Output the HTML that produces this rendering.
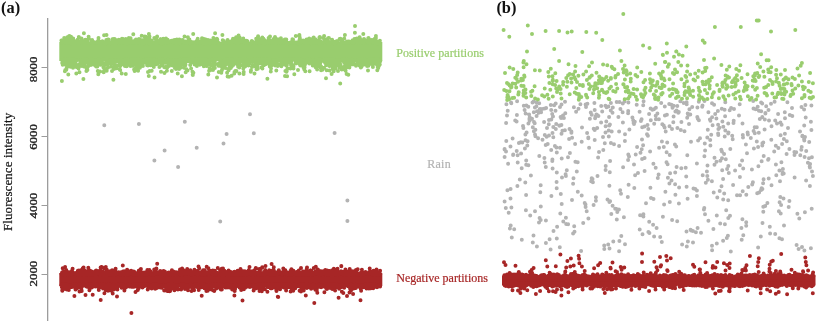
<!DOCTYPE html>
<html><head><meta charset="utf-8"><title>Fluorescence intensity</title>
<style>
html,body{margin:0;padding:0;background:#fff;}
svg{display:block;font-family:"Liberation Serif",serif;}
</style></head><body>
<svg width="817" height="324" viewBox="0 0 817 324">
<rect x="59.3" y="42" width="323" height="19" fill="#99cd6e"/>
<path d="M259.7 40.2h0M236.5 42.8h0M102.4 63.0h0M149.7 62.4h0M87.8 66.3h0M108.4 39.4h0M71.9 40.4h0M210.1 43.2h0M310.5 39.7h0M107.1 61.2h0M312.1 40.1h0M72.6 59.8h0M107.2 41.6h0M284.7 64.5h0M318.5 43.2h0M77.0 65.9h0M317.1 64.6h0M259.9 40.2h0M175.3 59.9h0M153.9 59.6h0M236.5 39.0h0M70.5 43.1h0M81.3 61.9h0M342.4 60.6h0M90.3 61.0h0M258.1 42.4h0M377.4 41.7h0M232.3 59.8h0M75.7 63.2h0M340.4 38.8h0M344.4 59.6h0M357.7 62.0h0M98.7 59.5h0M119.7 41.4h0M291.2 43.1h0M217.2 42.5h0M115.0 61.3h0M352.1 59.8h0M228.4 42.9h0M200.4 41.5h0M337.5 41.2h0M194.0 42.8h0M133.5 62.8h0M120.0 59.9h0M245.7 63.3h0M260.4 63.3h0M225.1 62.6h0M185.4 60.6h0M69.3 36.0h0M342.9 59.3h0M303.1 40.5h0M283.2 60.0h0M357.0 41.3h0M226.0 59.8h0M327.2 42.9h0M237.9 40.2h0M345.5 60.7h0M251.0 60.1h0M113.6 39.0h0M204.3 41.5h0M134.2 61.1h0M277.1 61.5h0M350.2 61.3h0M375.9 35.9h0M98.1 41.0h0M206.3 43.2h0M167.5 43.0h0M65.2 62.8h0M63.0 41.5h0M226.8 61.1h0M230.4 60.5h0M275.3 42.3h0M224.5 61.8h0M319.8 37.0h0M341.0 60.9h0M280.3 59.4h0M342.1 40.6h0M153.3 61.4h0M301.3 59.9h0M237.6 40.0h0M332.3 61.6h0M87.3 41.0h0M125.8 38.9h0M209.3 59.8h0M202.6 59.6h0M144.6 36.6h0M171.6 41.8h0M114.7 60.0h0M86.6 40.1h0M82.9 60.4h0M283.8 40.5h0M309.7 40.5h0M101.7 60.8h0M234.2 60.2h0M352.9 41.8h0M85.6 42.4h0M232.6 40.3h0M243.1 60.9h0M264.0 59.8h0M152.9 60.9h0M316.5 42.7h0M253.2 59.4h0M205.8 63.6h0M275.0 42.8h0M280.9 42.1h0M277.8 39.2h0M316.1 43.0h0M229.6 66.8h0M147.2 61.7h0M227.4 59.4h0M142.2 41.7h0M263.6 42.1h0M63.4 59.5h0M304.1 40.9h0M166.2 60.2h0M112.4 39.3h0M115.5 60.2h0M234.6 41.2h0M336.8 61.3h0M170.1 60.3h0M100.6 42.4h0M244.0 62.2h0M87.9 61.1h0M194.3 42.9h0M180.5 60.2h0M330.9 59.5h0M348.5 65.0h0M229.6 62.5h0M119.6 41.7h0M109.6 60.7h0M174.4 40.1h0M332.8 60.3h0M321.1 66.5h0M149.1 43.3h0M172.6 40.7h0M67.4 61.5h0M144.0 43.2h0M152.9 42.6h0M253.6 42.9h0M255.5 65.7h0M238.4 43.0h0M353.7 41.7h0M373.4 42.0h0M350.7 60.4h0M278.3 59.8h0M106.5 35.1h0M313.7 37.5h0M259.9 42.3h0M320.6 41.6h0M158.7 59.5h0M316.2 64.7h0M156.5 63.3h0M137.8 42.4h0M139.3 65.9h0M160.3 39.2h0M251.5 60.5h0M301.8 65.1h0M354.5 39.5h0M337.7 40.9h0M107.9 39.6h0M140.1 61.5h0M200.3 59.5h0M280.7 60.5h0M211.7 59.8h0M132.5 42.7h0M98.5 38.1h0M373.8 59.7h0M363.2 63.1h0M269.7 40.7h0M317.9 41.5h0M88.0 66.5h0M203.6 59.9h0M349.0 43.1h0M307.0 60.9h0M212.7 60.6h0M188.8 42.6h0M318.4 41.3h0M299.5 40.0h0M201.6 41.9h0M109.5 42.9h0M203.4 42.8h0M256.2 38.7h0M379.0 65.7h0M126.6 64.2h0M203.8 66.2h0M241.4 40.6h0M349.1 62.6h0M87.1 60.8h0M141.7 59.7h0M347.2 66.9h0M211.3 42.5h0M361.0 40.8h0M126.4 41.9h0M337.4 65.0h0M260.0 62.1h0M325.8 63.2h0M127.1 42.8h0M315.8 67.4h0M62.0 60.0h0M353.6 42.0h0M173.8 42.5h0M166.7 60.6h0M157.2 63.5h0M371.3 40.0h0M267.6 43.1h0M187.0 59.8h0M232.0 59.3h0M126.4 39.8h0M226.2 43.1h0M173.6 60.4h0M139.1 62.7h0M87.8 61.3h0M242.2 61.6h0M379.0 60.2h0M193.9 42.2h0M290.3 59.4h0M116.2 60.6h0M76.4 66.0h0M223.0 61.2h0M162.5 64.8h0M266.8 41.7h0M348.1 41.5h0M346.5 59.8h0M353.1 42.6h0M73.3 41.4h0M291.9 64.0h0M134.9 60.0h0M210.2 40.4h0M101.2 42.1h0M66.9 60.2h0M236.2 59.4h0M98.6 63.5h0M183.4 41.8h0M120.2 41.1h0M373.3 59.4h0M66.5 59.8h0M214.6 42.5h0M257.2 61.4h0M303.6 61.2h0M288.5 59.4h0M196.8 42.6h0M240.6 59.5h0M277.7 66.1h0M209.1 62.7h0M171.6 61.9h0M333.6 61.2h0M257.6 60.6h0M74.9 61.2h0M244.2 62.0h0M237.9 59.7h0M131.2 59.7h0M264.2 43.2h0M142.4 43.1h0M312.2 60.3h0M147.4 59.9h0M65.1 40.0h0M282.1 41.2h0M264.3 61.2h0M354.4 40.6h0M376.2 40.9h0M213.6 62.0h0M89.0 39.1h0M309.0 59.6h0M265.9 61.1h0M200.9 41.6h0M370.1 59.7h0M117.7 60.1h0M179.1 41.0h0M131.2 41.9h0M230.4 59.5h0M217.8 63.9h0M146.0 59.5h0M68.1 62.8h0M160.0 41.4h0M280.8 60.2h0M113.1 61.7h0M169.8 62.2h0M273.6 60.6h0M174.5 66.0h0M245.5 43.0h0M291.8 41.7h0M104.7 59.3h0M377.3 65.0h0M210.8 42.2h0M82.4 64.0h0M350.8 60.9h0M130.8 60.1h0M105.9 62.5h0M166.5 42.4h0M229.3 60.6h0M310.8 42.4h0M181.8 62.6h0M199.6 41.9h0M67.3 61.2h0M344.2 38.4h0M319.3 43.3h0M286.3 39.4h0M188.4 40.2h0M134.6 42.3h0M242.4 61.5h0M265.8 62.7h0M230.8 42.3h0M191.0 62.4h0M255.6 59.6h0M73.3 59.3h0M106.6 43.3h0M233.1 60.0h0M182.6 60.7h0M312.5 41.7h0M196.9 62.2h0M87.8 66.7h0M309.1 60.2h0M136.7 59.6h0M298.5 43.2h0M318.5 42.9h0M244.2 63.2h0M85.7 60.9h0M160.1 40.9h0M209.8 43.2h0M238.9 43.1h0M275.3 62.1h0M138.4 67.1h0M247.2 42.0h0M134.4 60.4h0M363.4 41.8h0M335.2 62.7h0M256.2 65.6h0M188.1 42.2h0M151.9 61.1h0M79.8 60.3h0M328.9 38.0h0M180.1 62.8h0M140.3 40.8h0M123.3 40.5h0M120.3 41.6h0M339.9 62.0h0M145.8 36.8h0M176.9 39.6h0M245.8 61.8h0M170.1 41.3h0M218.3 42.9h0M145.7 41.7h0M89.2 60.1h0M359.5 62.7h0M357.8 43.1h0M315.0 63.2h0M78.6 42.5h0M170.7 60.4h0M103.4 42.4h0M227.7 62.9h0M315.3 39.3h0M352.7 40.3h0M142.7 63.8h0M378.9 60.0h0M280.2 60.4h0M369.5 60.5h0M180.3 40.1h0M202.0 38.2h0M188.2 60.7h0M287.2 42.5h0M253.1 65.5h0M143.1 61.5h0M265.8 41.0h0M66.1 64.4h0M136.6 62.7h0M71.8 41.9h0M92.0 64.1h0M290.9 59.5h0M120.5 61.8h0M272.2 61.6h0M320.9 60.5h0M175.0 42.3h0M253.6 42.2h0M203.7 41.9h0M369.6 59.5h0M221.2 62.2h0M328.2 59.8h0M307.3 61.1h0M157.6 63.5h0M82.8 40.9h0M358.7 39.8h0M217.7 42.0h0M80.4 62.0h0M287.7 60.5h0M243.2 59.8h0M86.8 59.9h0M377.1 63.2h0M167.7 61.9h0M312.3 59.8h0M269.3 61.4h0M343.7 60.1h0M350.7 60.0h0M175.9 60.9h0M219.1 42.9h0M278.2 60.9h0M238.6 35.6h0M233.0 38.7h0M149.2 62.7h0M82.3 60.1h0M351.9 41.2h0M162.6 60.0h0M242.9 59.5h0M324.6 59.5h0M244.7 41.3h0M253.4 61.0h0M312.3 43.0h0M276.3 41.9h0M366.2 62.5h0M146.9 59.5h0M134.4 42.2h0M70.7 63.2h0M300.2 63.3h0M145.9 40.5h0M111.1 60.4h0M65.7 64.7h0M293.0 39.6h0M116.4 60.0h0M69.1 59.7h0M197.5 39.7h0M233.7 64.3h0M242.9 60.8h0M216.8 38.8h0M106.4 64.0h0M212.7 64.4h0M134.6 41.1h0M327.6 61.5h0M107.9 61.4h0M77.8 39.4h0M375.9 37.9h0M236.4 61.7h0M209.8 42.9h0M137.9 63.5h0M77.3 42.7h0M206.4 43.1h0M183.7 59.3h0M139.5 43.2h0M364.2 64.4h0M170.2 41.4h0M136.0 39.5h0M312.1 40.0h0M279.9 41.0h0M222.8 43.0h0M283.9 59.9h0M245.5 59.3h0M85.9 42.4h0M106.6 41.3h0M290.2 62.4h0M360.2 59.7h0M246.3 62.6h0M190.2 65.1h0M145.1 61.7h0M150.3 41.7h0M184.7 60.8h0M326.1 65.2h0M268.4 40.8h0M143.2 60.2h0M147.0 41.5h0M205.8 39.6h0M265.6 62.6h0M280.9 38.3h0M291.2 61.6h0M104.5 42.9h0M264.0 59.8h0M155.5 38.0h0M160.3 43.3h0M197.0 61.9h0M73.0 63.9h0M347.0 65.0h0M64.2 38.0h0M262.5 41.4h0M208.9 63.2h0M354.6 60.9h0M212.5 60.1h0M129.1 41.5h0M128.9 38.1h0M99.5 60.5h0M88.6 36.7h0M373.5 39.8h0M328.0 38.2h0M330.4 61.1h0M270.5 62.1h0M91.7 42.1h0M174.9 68.0h0M178.7 62.7h0M195.6 60.1h0M264.1 42.2h0M264.1 60.0h0M360.2 42.5h0M83.3 62.2h0M189.5 42.6h0M190.6 60.5h0M194.4 43.0h0M231.0 62.3h0M378.1 63.6h0M281.5 63.8h0M259.9 41.0h0M379.9 40.7h0M161.9 43.2h0M272.7 62.5h0M184.0 67.7h0M152.5 62.5h0M247.9 42.5h0M102.2 60.5h0M295.6 59.4h0M372.3 59.4h0M202.0 64.0h0M311.1 41.4h0M151.1 43.1h0M189.6 60.6h0M133.3 34.2h0M261.2 59.6h0M269.7 60.3h0M242.6 60.4h0M247.4 62.0h0M222.9 62.5h0M211.8 60.2h0M231.5 59.8h0M325.1 41.6h0M75.4 62.0h0M121.8 43.1h0M238.1 64.2h0M100.9 63.4h0M327.1 59.3h0M336.0 41.6h0M328.7 61.8h0M126.9 59.4h0M204.5 62.8h0M104.1 35.2h0M368.2 38.2h0M307.4 62.3h0M206.6 59.7h0M141.1 42.8h0M136.5 63.0h0M152.5 43.0h0M255.9 42.2h0M151.8 40.8h0M378.7 59.8h0M334.5 43.0h0M251.2 43.2h0M141.4 61.1h0M65.6 42.8h0M260.4 62.0h0M352.8 40.2h0M342.4 42.7h0M363.1 60.0h0M265.3 63.3h0M374.4 42.2h0M76.4 41.7h0M276.9 60.3h0M328.9 59.6h0M225.3 62.3h0M323.7 60.6h0M97.3 63.8h0M201.5 42.4h0M66.5 39.6h0M195.6 42.0h0M200.7 63.5h0M85.7 61.3h0M208.0 40.0h0M288.6 43.3h0M368.0 61.3h0M157.7 43.1h0M168.2 61.7h0M135.2 40.3h0M298.0 69.9h0M191.7 42.0h0M273.3 40.2h0M332.1 64.7h0M378.1 61.1h0M95.0 61.9h0M160.3 60.2h0M323.7 59.6h0M193.3 60.7h0M320.6 67.3h0M275.0 41.8h0M198.6 60.8h0M114.2 61.6h0M73.6 41.4h0M320.9 68.2h0M239.5 63.0h0M286.8 71.1h0M316.3 40.2h0M252.3 61.8h0M261.7 61.9h0M360.6 63.4h0M124.6 64.3h0M262.9 60.4h0M258.8 43.2h0M133.2 60.0h0M180.7 62.2h0M308.5 59.4h0M175.3 43.2h0M274.5 61.0h0M171.4 61.4h0M199.6 61.4h0M204.6 59.5h0M264.7 41.5h0M123.8 39.6h0M220.6 62.1h0M143.7 40.0h0M232.7 41.9h0M134.1 42.0h0M293.0 65.9h0M309.7 41.9h0M196.9 40.7h0M264.1 39.7h0M350.9 60.7h0M336.9 61.0h0M287.0 60.9h0M246.0 60.7h0M132.2 43.1h0M236.8 42.8h0M335.8 65.2h0M157.3 41.8h0M158.6 42.0h0M72.0 63.0h0M147.8 59.5h0M312.3 61.4h0M294.2 42.5h0M154.1 59.6h0M69.7 43.1h0M262.6 64.1h0M61.4 40.6h0M244.3 60.7h0M298.0 42.5h0M125.7 62.9h0M135.0 59.9h0M266.9 60.0h0M358.9 59.7h0M357.7 60.2h0M275.0 36.9h0M157.5 59.9h0M220.4 61.8h0M261.5 59.8h0M301.3 62.9h0M187.6 60.7h0M151.8 41.6h0M303.6 41.4h0M297.8 61.9h0M314.9 60.0h0M125.3 42.7h0M198.5 59.8h0M171.7 40.8h0M134.3 60.6h0M367.5 40.6h0M230.8 41.6h0M241.2 41.4h0M268.6 38.1h0M110.1 42.0h0M341.6 60.6h0M338.0 62.2h0M212.7 63.9h0M296.6 42.5h0M282.3 61.6h0M116.9 42.5h0M197.5 42.7h0M159.9 41.4h0M364.0 42.6h0M269.6 62.0h0M255.6 63.0h0M269.3 59.5h0M145.5 41.1h0M223.7 40.9h0M363.3 34.0h0M161.4 59.9h0M359.3 42.8h0M70.8 42.9h0M92.1 39.9h0M238.6 60.4h0M136.8 64.7h0M185.5 64.6h0M99.6 60.1h0M69.7 39.6h0M339.6 38.9h0M262.7 60.5h0M160.5 39.3h0M166.0 38.5h0M279.0 42.6h0M267.9 42.4h0M299.4 34.9h0M168.0 42.1h0M266.4 59.6h0M226.6 42.5h0M237.0 42.9h0M108.7 42.5h0M129.7 64.8h0M176.2 64.0h0M127.0 59.7h0M214.6 40.3h0M84.4 60.8h0M189.4 39.4h0M246.8 61.0h0M122.0 40.4h0M210.1 41.1h0M183.4 63.8h0M91.5 59.6h0M104.0 66.3h0M350.4 63.2h0M165.2 41.9h0M84.9 43.0h0M348.5 42.5h0M307.8 60.8h0M183.4 41.7h0M247.5 41.2h0M108.1 42.6h0M84.3 41.7h0M63.2 62.7h0M257.7 59.4h0M323.1 37.9h0M200.1 60.8h0M378.0 67.0h0M286.8 59.6h0M275.3 39.9h0M283.4 40.4h0M354.6 64.4h0M131.4 59.3h0M328.5 43.0h0M116.5 40.6h0M231.5 60.6h0M357.7 63.6h0M332.0 61.8h0M313.0 64.7h0M318.7 64.0h0M139.0 62.7h0M87.6 41.9h0M232.7 42.2h0M332.9 61.6h0M215.1 33.2h0M107.5 65.0h0M249.5 62.3h0M73.2 38.4h0M179.6 43.3h0M107.1 43.0h0M226.2 60.3h0M180.4 41.3h0M353.5 42.6h0M265.4 43.0h0M185.2 42.9h0M237.9 42.3h0M66.1 41.6h0M69.8 59.5h0M79.3 65.4h0M85.0 62.4h0M70.5 65.5h0M157.9 60.0h0M257.0 68.3h0M122.0 38.8h0M116.5 61.1h0M331.0 41.9h0M323.0 43.1h0M88.7 38.5h0M132.4 43.1h0M115.8 42.5h0M244.0 61.5h0M304.3 42.5h0M71.7 59.9h0M335.6 60.0h0M154.9 42.2h0M246.7 40.7h0M128.0 61.4h0M164.5 67.2h0M140.8 62.3h0M156.2 38.9h0M344.3 63.0h0M242.6 40.9h0M145.2 62.4h0M329.8 63.4h0M130.4 59.9h0M362.8 65.1h0M361.6 42.8h0M67.8 63.9h0M76.1 41.0h0M264.6 41.5h0M281.3 39.9h0M140.5 42.9h0M346.9 41.4h0M246.1 43.1h0M85.7 59.8h0M309.2 38.6h0M175.2 42.9h0M115.7 39.9h0M299.1 41.2h0M360.4 59.6h0M262.7 42.7h0M281.0 40.3h0M244.8 60.3h0M326.8 65.1h0M123.1 61.7h0M146.8 42.6h0M162.1 59.4h0M370.6 61.1h0M351.8 60.7h0M211.3 65.6h0M283.7 60.0h0M199.8 41.7h0M167.5 42.4h0M102.4 41.3h0M300.6 41.4h0M358.0 60.7h0M204.0 61.4h0M277.9 59.9h0M233.0 62.5h0M145.9 59.8h0M71.4 60.7h0M358.1 64.4h0M265.9 60.1h0M280.2 64.6h0M91.1 61.4h0M140.4 59.9h0M257.2 59.7h0M74.5 61.3h0M80.8 42.8h0M109.0 41.7h0M96.9 43.0h0M213.4 38.1h0M243.0 61.6h0M252.3 41.5h0M380.2 61.3h0M119.6 62.0h0M242.5 65.3h0M216.4 59.5h0M297.6 61.6h0M144.6 43.0h0M164.9 41.9h0M271.7 61.8h0M326.7 42.5h0M276.7 60.7h0M208.6 40.7h0M160.6 42.9h0M114.4 42.6h0M156.7 43.1h0M230.0 42.3h0M291.8 60.5h0M305.3 61.5h0M322.3 42.7h0M136.7 42.9h0M363.4 42.9h0M136.0 59.6h0M352.9 60.3h0M62.2 63.0h0M336.5 62.8h0M153.8 66.9h0M119.9 60.9h0M103.1 41.7h0M257.6 60.2h0M338.9 60.5h0M200.2 59.9h0M375.0 60.1h0M73.9 43.1h0M184.5 36.5h0M265.1 43.3h0M352.7 42.7h0M89.7 43.2h0M86.2 40.1h0M87.0 63.1h0M126.5 41.3h0M162.7 64.3h0M175.9 43.1h0M238.9 65.5h0M364.3 59.4h0M91.0 62.5h0M235.8 61.6h0M315.7 59.4h0M312.9 42.5h0M213.6 66.9h0M359.6 60.4h0M291.0 64.9h0M364.9 60.7h0M173.6 41.3h0M67.3 37.3h0M325.1 62.8h0M285.7 60.4h0M83.9 66.4h0M377.7 62.0h0M258.4 39.4h0M354.1 61.3h0M343.4 67.3h0M187.0 61.2h0M131.5 62.1h0M239.3 67.6h0M289.0 62.0h0M174.3 40.6h0M324.5 59.8h0M189.2 61.1h0M83.8 60.3h0M298.2 43.0h0M277.2 61.5h0M88.4 61.0h0M326.9 41.6h0M147.2 60.2h0M98.0 63.7h0M255.8 65.9h0M289.8 60.2h0M317.4 60.4h0M308.0 62.5h0M200.7 63.4h0M157.1 36.4h0M104.2 43.2h0M94.4 61.2h0M318.2 42.1h0M94.8 62.8h0M117.9 40.9h0M314.6 60.8h0M198.8 60.2h0M255.6 66.5h0M286.1 42.9h0M132.0 41.3h0M68.3 60.8h0M98.2 60.2h0M303.2 60.6h0M213.3 61.4h0M106.3 40.0h0M377.5 43.1h0M318.2 61.6h0M148.9 34.0h0M129.3 60.4h0M276.3 70.6h0M354.9 32.8h0M237.8 60.8h0M300.2 59.3h0M315.5 41.1h0M346.2 61.1h0M157.0 60.6h0M361.7 41.1h0M311.0 40.2h0M182.2 62.6h0M309.4 42.6h0M140.0 39.5h0M226.7 42.2h0M157.1 42.3h0M358.9 39.9h0M265.5 62.6h0M93.8 43.0h0M111.2 61.8h0M247.8 61.9h0M95.8 61.0h0M256.7 63.5h0M180.6 59.7h0M211.1 60.2h0M354.4 39.1h0M325.1 59.5h0M175.6 61.9h0M197.2 59.8h0M151.4 42.5h0M372.1 42.1h0M62.7 64.8h0M214.4 60.8h0M70.6 41.7h0M261.1 62.6h0M294.2 43.1h0M249.6 60.0h0M237.3 60.2h0M270.5 43.0h0M254.2 42.6h0M64.3 61.2h0M164.2 67.1h0M80.3 42.1h0M168.7 59.8h0M180.0 42.8h0M322.6 42.6h0M252.9 66.0h0M233.6 61.2h0M364.2 41.4h0M370.0 61.8h0M66.6 42.9h0M375.5 63.7h0M297.0 59.4h0M212.0 42.3h0M139.0 62.3h0M122.5 62.9h0M274.5 60.2h0M130.4 43.1h0M295.8 36.0h0M376.9 43.2h0M320.4 60.8h0M111.6 41.9h0M236.1 37.3h0M267.9 59.9h0M72.5 43.0h0M310.4 43.2h0M81.7 41.8h0M328.5 41.8h0M76.2 42.9h0M219.8 59.4h0M380.2 60.6h0M309.1 42.8h0M213.1 40.0h0M370.5 62.8h0M319.8 60.6h0M356.8 60.8h0M185.5 60.3h0M159.4 62.5h0M378.2 60.3h0M102.4 42.8h0M72.1 39.3h0M322.2 60.5h0M234.1 59.9h0M311.6 42.4h0M360.0 38.6h0M275.1 40.2h0M199.7 62.4h0M233.2 61.9h0M93.4 42.2h0M339.0 63.7h0M291.6 60.5h0M333.3 62.9h0M240.5 59.9h0M91.9 41.8h0M251.2 43.2h0M112.7 60.3h0M63.9 59.6h0M299.5 36.3h0M91.5 60.1h0M332.9 59.6h0M163.2 38.7h0M124.6 61.2h0M203.7 60.3h0M86.5 59.5h0M298.2 62.7h0M161.8 41.4h0M328.7 59.6h0M82.5 42.3h0M111.3 42.4h0M287.6 59.6h0M182.8 64.1h0M306.8 61.0h0M129.6 41.5h0M81.5 41.7h0M126.0 42.2h0M139.4 59.7h0M122.4 63.8h0M254.1 65.6h0M155.3 43.1h0M199.6 60.8h0M283.2 60.8h0M260.6 59.4h0M319.9 40.9h0M237.3 59.8h0M278.8 60.3h0M173.0 60.0h0M80.4 61.1h0M376.1 59.6h0M240.5 60.4h0M113.2 63.2h0M203.1 62.3h0M111.8 42.6h0M215.8 43.1h0M179.7 59.7h0M199.4 41.6h0M315.1 59.7h0M352.9 42.2h0M83.8 59.7h0M238.9 41.9h0M127.1 42.2h0M245.1 42.6h0M185.4 41.6h0M90.7 61.8h0M355.2 40.6h0M356.3 39.2h0M304.5 66.1h0M69.4 40.8h0M364.4 39.7h0M214.5 63.0h0M180.9 40.9h0M200.0 60.1h0M245.3 40.9h0M344.1 60.9h0M255.2 43.0h0M118.8 39.7h0M188.8 59.6h0M189.9 61.5h0M242.4 61.1h0M320.5 60.8h0M131.4 41.8h0M178.9 43.1h0M328.5 43.2h0M123.5 41.4h0M334.7 62.8h0M333.6 43.2h0M131.5 59.8h0M178.4 61.3h0M190.0 43.2h0M289.9 62.2h0M233.5 60.8h0M86.1 43.0h0M330.9 62.6h0M209.7 41.3h0M331.1 42.9h0M71.0 36.8h0M323.1 60.9h0M227.9 59.5h0M175.2 42.9h0M343.6 59.6h0M98.5 59.6h0M149.5 39.1h0M324.5 39.2h0M206.0 43.1h0M361.8 40.3h0M303.8 41.3h0M231.0 67.3h0M319.2 42.5h0M324.4 59.8h0M83.9 33.3h0M160.6 61.5h0M345.9 42.6h0M149.4 39.6h0M162.1 61.9h0M275.4 40.2h0M295.8 61.9h0M185.6 61.0h0M204.0 39.0h0M105.4 59.4h0M372.9 63.6h0M214.7 61.6h0M270.2 63.9h0M364.0 39.0h0M348.5 62.5h0M75.1 43.1h0M183.9 41.3h0M307.6 59.4h0M330.9 61.0h0M193.2 34.1h0M206.2 59.5h0M306.5 39.6h0M154.3 38.1h0M190.7 61.5h0M174.8 42.0h0M243.3 38.6h0M251.4 60.0h0M71.4 41.3h0M293.1 59.4h0M103.3 59.3h0M375.8 41.8h0M157.9 42.7h0M203.1 61.9h0M184.4 42.8h0M299.6 43.1h0M214.6 60.7h0M345.0 61.6h0M349.4 42.1h0M293.5 42.2h0M301.9 62.1h0M292.1 41.9h0M65.9 61.3h0M64.6 61.7h0M378.0 42.3h0M153.2 42.5h0M203.7 59.4h0M170.8 60.5h0M110.9 42.9h0M333.8 41.8h0M184.8 42.2h0M246.1 41.2h0M165.5 39.0h0M377.9 41.9h0M288.7 59.5h0M284.8 39.4h0M316.9 41.4h0M61.9 42.6h0M319.7 42.7h0M150.0 59.5h0M72.2 62.2h0M339.6 66.3h0M89.4 60.9h0M65.7 42.9h0M178.6 65.2h0M106.4 59.3h0M294.9 59.7h0M319.9 60.0h0M367.1 65.9h0M147.4 60.1h0M134.0 41.8h0M68.3 59.5h0M211.1 60.6h0M342.3 40.5h0M85.3 39.8h0M93.1 62.2h0M192.0 61.5h0M261.0 62.8h0M154.8 42.2h0M170.7 60.3h0M316.7 59.8h0M104.2 64.8h0M299.9 38.2h0M166.0 62.8h0M239.0 60.3h0M320.2 63.6h0M190.1 60.4h0M295.9 63.5h0M92.2 59.7h0M273.7 39.0h0M238.8 39.6h0M361.6 60.6h0M118.0 60.7h0M244.3 42.1h0M200.2 63.1h0M332.9 59.7h0M301.8 41.3h0M319.4 37.5h0M123.8 41.8h0M112.1 41.9h0M312.9 63.6h0M116.0 60.2h0M145.2 60.9h0M302.1 60.4h0M222.4 35.0h0M74.1 65.1h0M334.3 59.6h0M97.9 41.0h0M145.7 42.6h0M100.1 64.6h0M130.8 61.6h0M152.2 41.9h0M284.5 59.5h0M67.1 42.1h0M90.1 62.1h0M112.9 42.8h0M263.2 38.6h0M119.2 61.3h0M140.4 42.5h0M339.8 60.8h0M303.2 61.5h0M262.0 59.8h0M173.8 62.8h0M208.8 41.3h0M267.2 59.6h0M187.9 37.3h0M224.6 42.8h0M130.3 42.4h0M368.7 41.8h0M369.9 60.4h0M372.5 59.5h0M168.0 59.8h0M352.7 42.7h0M199.5 42.4h0M208.3 42.6h0M301.8 62.8h0M130.6 38.3h0M193.5 60.9h0M175.9 63.1h0M270.0 36.5h0M257.9 59.6h0M136.8 43.1h0M121.9 60.1h0M203.8 41.1h0M341.4 40.8h0M61.8 40.4h0M209.2 62.3h0M316.7 60.6h0M224.7 60.5h0M275.8 59.9h0M198.8 61.7h0M361.3 66.2h0M343.3 42.2h0M151.8 43.1h0M372.9 43.0h0M166.7 40.6h0M284.7 43.0h0M378.6 60.7h0M299.7 60.5h0M232.9 61.4h0M332.1 39.7h0M320.0 59.3h0M143.3 40.1h0M149.6 42.8h0M284.1 64.2h0M87.1 62.6h0M156.1 40.4h0M289.2 43.0h0M292.4 39.2h0M120.7 43.0h0M254.1 59.8h0M202.9 60.7h0M378.8 43.2h0M341.1 67.0h0M240.5 40.9h0M378.7 61.5h0M365.5 61.8h0M128.7 42.7h0M114.8 41.4h0M156.7 61.7h0M197.1 61.2h0M372.5 59.9h0M369.9 41.8h0M68.7 59.7h0M277.6 40.6h0M84.5 43.1h0M119.5 63.7h0M114.2 41.1h0M340.3 60.7h0M324.7 40.6h0M92.7 60.0h0M361.6 62.3h0M378.4 60.2h0M249.8 63.5h0M87.5 40.3h0M336.1 41.6h0M324.1 36.1h0M199.1 60.0h0M349.0 41.5h0M334.6 67.2h0M224.0 61.6h0M317.5 41.1h0M361.2 61.0h0M363.2 41.7h0M280.0 39.6h0M78.8 36.9h0M173.1 61.5h0M75.9 42.5h0M152.2 63.5h0M131.4 60.7h0M359.6 37.3h0M123.7 39.4h0M198.1 64.8h0M298.0 43.1h0M333.8 59.8h0M305.3 63.3h0M120.6 60.3h0M141.9 62.1h0M196.5 61.6h0M156.4 62.3h0M376.1 41.0h0M316.3 62.5h0M122.2 64.2h0M377.8 59.5h0M334.6 61.7h0M369.7 62.8h0M316.8 59.6h0M141.7 35.8h0M243.5 59.4h0M374.2 63.1h0M125.9 60.8h0M236.4 42.3h0M374.1 63.4h0M313.0 38.2h0M116.7 61.5h0M179.3 39.4h0M214.4 64.9h0M107.9 62.7h0M217.3 39.5h0M167.6 39.7h0M239.6 37.5h0M139.1 40.1h0M109.0 41.9h0M192.5 61.2h0M233.8 62.5h0M262.0 60.6h0M255.3 61.1h0M226.5 42.6h0M159.4 60.2h0M163.0 42.8h0M369.4 40.5h0M95.7 59.9h0M297.6 62.2h0M90.6 59.8h0M298.1 43.2h0M113.6 61.9h0M65.2 62.4h0M206.2 59.3h0M314.0 62.5h0M127.0 43.2h0M351.0 64.6h0M340.8 60.6h0M92.4 41.1h0M99.6 42.4h0M137.2 42.5h0M148.5 61.5h0M368.3 42.9h0M168.5 62.4h0M344.9 35.0h0M68.8 60.1h0M236.8 43.0h0M368.8 63.1h0M311.2 41.5h0M124.8 43.0h0M227.4 63.0h0M94.6 42.2h0M120.0 61.3h0M306.5 43.0h0M165.9 61.9h0M156.3 64.2h0M68.9 37.7h0M120.3 59.8h0M290.8 42.2h0M173.2 59.9h0M368.5 37.9h0M347.9 62.9h0M245.5 59.9h0M218.2 59.5h0M75.4 60.6h0M256.7 62.3h0M183.5 64.7h0M210.3 41.2h0M337.0 61.8h0M321.0 60.8h0M229.4 60.7h0M81.6 41.1h0M376.1 61.9h0M277.0 63.1h0M319.1 43.3h0M258.1 43.0h0M378.2 68.0h0M269.9 40.1h0M251.8 41.0h0M195.0 59.7h0M341.2 59.9h0M366.4 62.3h0M331.1 61.7h0M226.4 64.2h0M136.3 41.9h0M178.7 60.2h0M159.6 40.8h0M170.3 60.4h0M254.3 61.0h0M199.5 60.3h0M197.7 38.7h0M110.4 43.2h0M146.4 41.1h0M292.6 42.5h0M195.6 60.0h0M209.4 41.6h0M96.7 61.4h0M309.7 62.3h0M345.0 61.1h0M88.4 61.3h0M204.0 43.2h0M153.8 60.4h0M308.6 41.3h0M374.8 38.8h0M185.8 59.8h0M365.2 62.7h0M133.2 61.0h0M309.3 63.5h0M143.3 41.6h0M290.5 60.8h0M347.4 59.8h0M369.2 60.3h0M259.7 39.0h0M326.3 59.4h0M85.2 59.7h0M183.3 64.2h0M321.7 60.5h0M199.6 61.2h0M327.4 60.4h0M125.8 43.0h0M95.7 63.1h0M147.7 39.3h0M222.7 40.3h0M304.6 67.6h0M214.6 63.0h0M356.8 38.4h0M71.1 61.6h0M358.0 61.0h0M341.4 42.6h0M98.6 40.7h0M330.3 61.1h0M76.6 42.1h0M130.8 40.0h0M103.5 59.4h0M258.1 36.2h0M365.6 60.5h0M99.9 64.2h0M203.7 39.8h0M168.5 60.3h0M139.4 60.8h0M339.4 65.0h0M233.3 65.1h0M133.5 59.8h0M273.0 42.2h0M322.7 67.7h0M262.3 37.4h0M111.0 63.9h0M112.7 59.8h0M89.0 43.1h0M113.0 63.3h0M294.9 42.5h0M139.0 38.9h0M335.9 43.0h0M198.4 59.8h0M272.6 62.7h0M212.3 59.8h0M281.5 60.4h0M277.4 42.8h0M334.6 43.1h0M194.4 63.8h0M133.7 63.8h0M296.6 59.5h0M215.3 59.5h0M347.5 62.4h0M117.7 60.4h0M149.5 36.6h0M311.5 40.4h0M280.7 43.3h0M148.0 40.6h0M358.6 43.1h0M364.1 60.2h0M351.3 59.9h0M366.8 61.4h0M304.3 41.9h0M361.1 61.6h0M239.8 41.0h0M336.0 60.9h0M345.1 60.7h0M196.6 61.2h0M330.1 43.2h0M87.4 42.6h0M228.9 59.6h0M326.1 42.0h0M182.5 39.9h0M125.3 59.3h0M370.3 63.4h0M81.5 38.4h0M374.5 59.6h0M369.6 59.5h0M150.3 63.2h0M227.6 40.1h0M248.5 60.9h0M163.1 42.7h0M114.6 39.1h0M267.4 41.5h0M303.4 67.2h0M120.8 60.1h0M71.0 43.2h0M225.6 42.9h0M333.5 42.1h0M369.0 39.3h0M133.1 42.5h0M358.0 42.8h0M146.5 42.0h0M371.9 59.5h0M307.1 43.0h0M76.7 60.3h0M126.3 41.0h0M128.9 61.1h0M373.7 59.5h0M265.5 64.3h0M179.2 66.1h0M207.7 60.2h0M148.0 65.6h0M112.0 61.4h0M371.9 59.5h0M79.1 65.0h0M214.8 64.3h0M120.3 65.9h0M335.4 68.4h0M185.2 65.6h0M222.8 68.1h0M172.5 65.5h0M205.4 64.0h0M90.8 64.9h0M180.4 66.0h0M107.9 67.7h0M234.6 72.0h0M368.0 70.4h0M137.8 66.6h0M338.0 71.1h0M69.2 64.8h0M184.2 64.0h0M317.1 69.5h0M174.6 65.3h0M224.1 65.0h0M79.5 72.3h0M148.0 71.9h0M267.4 78.7h0M340.2 83.4h0M231.6 75.8h0M134.9 69.1h0M285.4 71.0h0M115.4 65.2h0M98.3 74.2h0M210.9 69.7h0M349.4 67.6h0M286.9 65.1h0M244.6 65.4h0M236.4 71.1h0M97.8 71.0h0M115.3 66.8h0M287.1 76.3h0M121.7 73.6h0M211.8 65.0h0M326.0 78.2h0M281.8 64.9h0M377.3 70.2h0M119.6 69.3h0M252.8 66.1h0M199.7 64.7h0M219.5 65.8h0M324.0 68.1h0M305.3 71.2h0M238.6 64.7h0M193.4 72.8h0M243.7 72.0h0M345.6 70.8h0M286.4 65.4h0M154.9 64.4h0M229.0 76.7h0M332.8 68.8h0M228.7 70.2h0M248.5 65.5h0M138.1 70.8h0M368.4 65.8h0M142.9 65.9h0M286.8 64.1h0M142.1 65.6h0M294.3 74.2h0M73.0 67.7h0M192.7 74.5h0M360.5 66.8h0M191.1 68.6h0M177.6 65.8h0M196.9 65.9h0M378.2 64.4h0M379.8 64.6h0M78.0 67.1h0M159.4 66.9h0M332.8 68.0h0M340.3 67.8h0M136.5 66.3h0M169.1 64.0h0M372.9 66.9h0M112.0 70.9h0M235.4 71.0h0M329.6 66.0h0M134.6 71.0h0M343.3 66.9h0M217.0 77.4h0M87.4 69.9h0M256.5 69.2h0M68.4 66.0h0M257.4 65.3h0M329.4 65.9h0M116.3 68.2h0M317.4 66.2h0M300.3 65.5h0M132.6 65.7h0M114.5 67.9h0M100.1 71.5h0M209.6 68.1h0M81.1 66.0h0M250.8 71.8h0M111.1 66.7h0M269.8 66.5h0M78.5 68.4h0M136.1 68.1h0M341.6 68.9h0M95.0 65.2h0M292.5 65.4h0M206.4 65.9h0M167.2 67.6h0M186.5 69.2h0M221.9 66.9h0M115.4 67.4h0M312.7 65.5h0M281.4 66.2h0M262.4 68.6h0M230.3 66.1h0M372.7 65.1h0M360.7 64.5h0M268.9 64.1h0M139.0 65.9h0M66.6 68.3h0M147.1 65.3h0M72.5 66.1h0M238.1 66.7h0M349.3 66.0h0M340.3 64.6h0M125.8 74.1h0M326.7 70.2h0M154.3 64.7h0M304.2 69.2h0M348.3 74.7h0M184.3 65.9h0M113.9 69.0h0M245.1 66.4h0M348.7 65.0h0M93.9 64.6h0M169.0 65.9h0M171.8 70.9h0M224.3 66.4h0M194.6 64.4h0M353.2 64.2h0M261.6 67.4h0M359.6 65.4h0M61.9 80.9h0M346.6 74.0h0M265.2 64.3h0M221.9 70.3h0M321.1 70.2h0M177.7 73.4h0M270.8 71.6h0M227.9 69.0h0M148.8 76.0h0M130.5 66.1h0M205.3 64.7h0M305.0 64.5h0M203.9 64.1h0M315.3 66.1h0M239.4 73.4h0M114.0 67.1h0M179.2 67.4h0M371.6 64.0h0M208.3 64.1h0M181.9 76.3h0M72.5 64.2h0M86.7 68.6h0M180.5 67.8h0M113.4 79.7h0M293.5 68.5h0M213.0 70.0h0M154.5 77.4h0M103.7 72.2h0M147.3 64.4h0M139.9 67.7h0M149.6 71.1h0M192.5 71.8h0M96.1 66.4h0M192.8 75.0h0M100.4 64.7h0M66.3 68.9h0M377.7 67.1h0M161.0 71.8h0M75.3 64.2h0M225.4 68.0h0M218.8 71.9h0M319.7 66.3h0M84.1 64.5h0M74.6 64.3h0M263.8 65.2h0M254.5 73.4h0M185.7 72.3h0M319.8 64.9h0M275.2 65.6h0M79.5 64.2h0M290.5 68.4h0M299.5 64.1h0M251.0 70.2h0M341.7 69.4h0M76.3 67.0h0M150.7 65.3h0M73.7 64.2h0M285.0 76.1h0M70.5 66.7h0M95.1 65.4h0M67.5 65.3h0M339.3 67.5h0M161.3 65.4h0M345.4 69.4h0M286.5 71.8h0M66.5 64.5h0M336.3 64.6h0M214.7 64.4h0M338.8 64.0h0M224.4 65.3h0M206.9 65.1h0M166.9 70.8h0M83.4 79.0h0M257.6 66.5h0M173.7 65.2h0M175.8 66.0h0M135.5 68.4h0M234.5 72.1h0M73.0 64.9h0M117.2 66.0h0M221.3 72.7h0M120.2 69.9h0M227.6 76.5h0M333.7 71.2h0M287.4 68.6h0M147.1 64.1h0M315.4 66.7h0M179.1 69.0h0M68.3 74.5h0M64.9 71.3h0M227.1 72.7h0M152.3 64.5h0M229.9 65.8h0M218.4 65.7h0M234.3 73.4h0M204.6 64.1h0M243.6 74.1h0M126.7 66.2h0M361.5 66.8h0M334.9 65.5h0M86.4 71.0h0M209.2 64.0h0M85.0 66.7h0M151.7 70.7h0M271.7 65.3h0M378.3 67.3h0M237.3 64.3h0M272.9 64.1h0M73.2 64.5h0M247.6 64.6h0M132.8 65.6h0M176.0 69.0h0M271.0 68.5h0M106.6 69.0h0M257.8 68.7h0M65.3 70.1h0M106.7 70.7h0M331.6 74.0h0M164.5 73.0h0M243.3 68.5h0M285.2 64.1h0M322.5 69.7h0M329.6 70.6h0M97.3 66.5h0M99.4 64.4h0M166.5 66.5h0M209.1 70.7h0M134.1 69.4h0M309.6 71.2h0M231.9 66.3h0M88.9 64.1h0M255.7 66.0h0M345.7 64.8h0M103.4 67.3h0M76.3 73.6h0M98.9 64.1h0M221.1 64.3h0M230.8 68.1h0M293.5 66.7h0M342.9 69.3h0M254.0 65.6h0M124.9 66.1h0M214.8 68.1h0M208.3 74.5h0M66.3 69.8h0M173.3 64.7h0M345.8 66.4h0M252.0 66.9h0M356.0 65.8h0M187.5 70.6h0M360.8 67.5h0M104.0 70.8h0M197.2 64.8h0M292.2 65.8h0M355.0 26.0h0" stroke="#99cd6e" stroke-width="4.0" stroke-linecap="round" fill="none"/>
<rect x="59.3" y="273" width="323" height="13" fill="#a72626"/>
<path d="M107.0 285.0h0M370.9 288.2h0M238.6 285.6h0M255.2 273.3h0M264.7 285.1h0M234.0 273.0h0M171.2 274.6h0M363.6 285.6h0M134.0 284.7h0M371.6 274.3h0M222.1 286.7h0M132.3 285.1h0M282.3 286.8h0M152.7 284.8h0M356.9 272.5h0M225.7 285.5h0M77.9 270.7h0M173.3 284.9h0M332.1 270.3h0M266.9 285.5h0M115.3 285.2h0M295.9 285.4h0M379.6 284.7h0M205.9 272.2h0M208.0 289.6h0M138.0 284.6h0M290.7 270.7h0M132.0 284.9h0M255.5 273.7h0M153.0 274.1h0M220.4 273.4h0M240.5 285.3h0M270.4 270.7h0M373.3 274.3h0M260.2 273.8h0M333.4 274.1h0M97.1 285.1h0M292.5 270.7h0M155.2 274.0h0M311.3 272.3h0M335.5 271.3h0M168.3 274.2h0M303.0 284.8h0M168.9 286.1h0M100.8 274.5h0M315.2 273.7h0M197.1 273.4h0M113.9 285.6h0M349.1 273.6h0M248.9 285.5h0M286.9 286.7h0M203.4 273.7h0M286.1 271.8h0M151.9 274.2h0M240.7 285.0h0M145.6 274.4h0M314.3 285.4h0M228.5 284.7h0M271.7 286.3h0M258.7 286.0h0M280.0 287.6h0M244.7 287.2h0M217.8 268.0h0M125.0 285.2h0M101.3 273.8h0M90.5 287.7h0M336.0 273.5h0M371.3 287.5h0M185.0 271.7h0M355.8 286.2h0M320.8 271.3h0M190.9 273.1h0M236.3 274.0h0M215.4 286.5h0M120.4 273.9h0M225.0 274.1h0M65.2 286.2h0M253.6 287.2h0M324.8 271.4h0M182.1 274.5h0M223.6 285.9h0M265.0 273.9h0M67.1 287.6h0M79.8 274.6h0M119.2 273.5h0M278.8 284.9h0M83.2 274.1h0M320.1 273.4h0M341.1 286.5h0M234.9 274.0h0M197.5 274.6h0M270.0 285.9h0M69.4 273.8h0M81.5 270.1h0M233.4 274.5h0M174.8 274.2h0M149.1 272.4h0M321.0 271.3h0M114.4 270.9h0M71.1 273.4h0M341.6 273.3h0M78.7 273.9h0M64.0 284.8h0M182.1 268.5h0M132.1 273.4h0M121.6 274.5h0M369.2 286.6h0M269.2 270.2h0M131.1 270.8h0M329.8 274.1h0M102.8 271.4h0M198.3 274.4h0M232.7 285.8h0M107.9 273.9h0M150.7 285.4h0M161.7 287.1h0M183.4 287.5h0M329.7 272.0h0M265.3 274.4h0M81.6 285.4h0M73.6 284.6h0M155.6 273.2h0M314.5 285.4h0M325.8 286.6h0M288.1 285.0h0M291.4 273.9h0M280.2 284.7h0M333.1 284.6h0M220.5 271.7h0M119.7 272.7h0M95.4 274.4h0M372.8 284.7h0M63.5 286.3h0M229.2 287.1h0M224.3 274.0h0M168.8 285.2h0M261.7 274.0h0M376.7 274.1h0M180.5 274.5h0M325.3 270.1h0M284.1 273.4h0M215.0 285.2h0M152.6 286.8h0M350.1 284.9h0M316.6 286.2h0M209.2 285.8h0M313.8 267.9h0M168.8 286.5h0M226.4 273.6h0M374.0 284.9h0M200.1 285.5h0M147.2 284.8h0M113.6 285.1h0M90.2 285.3h0M275.7 272.3h0M302.0 273.2h0M97.6 285.4h0M270.3 273.9h0M164.0 273.6h0M237.1 274.4h0M87.6 284.8h0M109.9 286.5h0M312.5 287.7h0M68.0 274.1h0M278.2 284.7h0M195.8 273.2h0M156.3 286.4h0M115.9 274.3h0M375.0 273.2h0M331.7 286.0h0M248.7 270.3h0M63.4 285.6h0M172.8 274.5h0M226.1 287.0h0M373.5 270.7h0M183.5 270.3h0M141.4 285.0h0M113.1 274.3h0M233.7 285.2h0M321.7 273.6h0M307.2 274.5h0M167.6 284.7h0M101.7 274.3h0M255.8 285.8h0M316.6 273.1h0M62.1 285.2h0M352.0 272.5h0M341.0 286.1h0M174.8 271.9h0M125.9 287.6h0M269.0 274.1h0M187.0 273.8h0M294.8 286.3h0M348.2 273.3h0M104.2 286.1h0M78.9 285.1h0M341.6 273.2h0M136.0 285.0h0M198.5 266.5h0M227.6 273.0h0M138.7 270.7h0M159.5 285.1h0M253.1 286.4h0M261.7 288.6h0M346.1 285.0h0M217.4 287.8h0M320.7 285.6h0M98.3 287.0h0M289.4 274.4h0M288.7 284.9h0M181.1 289.5h0M223.7 273.3h0M340.3 287.0h0M106.8 269.7h0M331.4 274.0h0M286.6 285.1h0M286.1 286.0h0M364.5 284.7h0M361.9 273.4h0M315.6 287.6h0M80.4 273.0h0M107.8 285.2h0M370.5 285.2h0M185.9 273.1h0M372.0 284.6h0M159.9 286.2h0M207.7 290.7h0M249.5 272.4h0M317.4 285.8h0M245.2 287.7h0M94.5 272.5h0M314.0 273.8h0M94.6 274.2h0M186.6 285.4h0M102.1 272.9h0M100.0 287.2h0M163.3 273.6h0M75.2 284.9h0M208.4 286.8h0M221.0 273.9h0M63.3 286.0h0M124.2 272.3h0M320.7 272.0h0M257.2 285.3h0M155.2 271.9h0M260.4 274.5h0M218.5 273.0h0M170.8 285.6h0M65.9 284.8h0M260.6 285.1h0M367.5 285.9h0M340.4 285.8h0M81.5 274.4h0M85.9 273.3h0M225.4 287.6h0M85.1 285.3h0M194.5 273.0h0M276.0 274.3h0M147.7 289.4h0M82.1 285.5h0M301.3 285.8h0M89.8 270.5h0M303.2 273.6h0M91.8 287.5h0M357.7 269.2h0M103.4 284.8h0M260.1 284.6h0M361.2 287.8h0M331.8 285.6h0M255.6 285.2h0M282.9 284.9h0M76.0 285.2h0M218.3 273.3h0M128.2 274.4h0M253.5 274.0h0M199.0 274.1h0M177.3 287.5h0M362.6 274.3h0M376.2 274.5h0M186.2 285.7h0M178.7 273.6h0M202.3 271.3h0M204.7 270.2h0M360.2 285.1h0M134.8 284.7h0M89.3 285.8h0M263.1 273.7h0M369.2 273.4h0M96.9 273.7h0M65.9 272.5h0M300.0 274.3h0M156.1 269.1h0M240.5 284.8h0M247.6 272.1h0M174.4 286.1h0M163.6 284.8h0M300.2 284.6h0M160.5 272.9h0M278.7 285.0h0M373.3 274.3h0M230.2 271.8h0M206.7 266.8h0M234.1 286.7h0M379.8 284.9h0M258.8 287.6h0M83.3 273.5h0M122.4 287.1h0M303.6 287.8h0M76.6 285.1h0M294.6 286.3h0M323.9 273.6h0M84.9 285.6h0M103.7 285.2h0M251.6 285.0h0M101.1 271.1h0M179.2 285.3h0M201.7 285.9h0M81.2 272.0h0M74.8 273.7h0M377.2 273.9h0M63.2 286.7h0M277.5 287.9h0M318.2 287.0h0M67.3 286.7h0M148.3 284.8h0M80.1 285.2h0M177.9 274.0h0M117.2 287.9h0M101.9 286.6h0M92.2 284.7h0M330.5 273.6h0M227.4 284.9h0M242.9 286.6h0M64.4 285.6h0M183.3 286.9h0M271.9 288.3h0M142.5 287.5h0M220.5 285.0h0M180.0 269.5h0M213.1 286.3h0M264.7 272.7h0M340.0 274.1h0M62.1 272.6h0M90.4 284.8h0M65.2 286.4h0M234.5 273.9h0M107.2 273.4h0M73.1 284.8h0M151.6 273.0h0M206.5 285.4h0M267.0 273.0h0M273.8 274.3h0M107.4 272.6h0M156.6 285.9h0M194.6 285.6h0M112.8 287.1h0M97.5 285.8h0M83.8 274.4h0M313.3 286.7h0M127.1 269.8h0M208.7 274.4h0M202.3 272.9h0M156.4 268.6h0M248.2 273.6h0M113.9 289.5h0M326.9 289.0h0M156.9 288.0h0M348.1 271.4h0M151.8 287.1h0M180.0 272.9h0M110.8 272.1h0M223.3 273.2h0M302.8 272.9h0M155.5 272.9h0M209.3 284.9h0M219.3 273.5h0M139.4 271.0h0M122.7 273.9h0M301.4 274.6h0M253.4 273.9h0M245.4 271.5h0M209.2 270.6h0M251.1 272.5h0M213.8 284.7h0M120.1 272.3h0M118.2 272.6h0M360.7 285.6h0M360.8 273.9h0M123.1 273.9h0M112.5 284.8h0M256.4 288.3h0M328.6 274.3h0M344.9 284.9h0M88.1 287.1h0M109.9 284.7h0M310.3 274.5h0M103.4 274.0h0M278.4 288.5h0M191.2 273.0h0M314.3 272.8h0M139.9 286.0h0M260.6 287.1h0M75.3 286.9h0M277.7 289.1h0M345.6 284.9h0M250.4 286.7h0M343.7 274.4h0M123.8 286.9h0M193.4 289.3h0M190.3 286.8h0M105.8 284.9h0M188.0 286.0h0M218.0 286.0h0M290.3 273.8h0M188.4 272.5h0M197.6 274.2h0M67.5 286.3h0M214.0 274.2h0M246.7 274.1h0M287.8 287.2h0M306.1 284.9h0M379.6 273.7h0M165.0 271.7h0M198.6 287.1h0M154.5 285.2h0M345.8 272.7h0M310.3 285.5h0M267.8 285.8h0M71.7 274.4h0M176.1 274.4h0M247.4 272.4h0M81.9 272.8h0M359.7 274.3h0M95.5 271.0h0M238.2 285.0h0M306.9 287.9h0M64.9 285.3h0M95.7 285.0h0M309.3 273.7h0M378.1 274.2h0M105.7 285.2h0M348.8 285.8h0M281.4 285.1h0M328.2 272.4h0M312.0 285.6h0M312.8 285.5h0M114.9 270.3h0M111.6 271.9h0M116.8 285.3h0M152.7 272.9h0M261.6 285.4h0M361.0 272.6h0M131.0 284.9h0M366.3 285.7h0M109.4 273.6h0M263.3 286.6h0M240.5 273.8h0M112.8 285.0h0M173.1 288.8h0M147.4 274.4h0M196.9 285.0h0M237.7 274.5h0M318.2 273.8h0M120.1 274.4h0M298.8 270.5h0M259.7 272.2h0M263.2 285.1h0M62.7 268.3h0M309.4 285.2h0M325.0 285.3h0M180.0 284.9h0M191.9 274.5h0M222.1 272.2h0M112.6 272.6h0M364.9 272.6h0M130.2 286.3h0M277.7 273.9h0M182.9 287.5h0M282.9 285.7h0M210.5 285.1h0M251.2 274.3h0M300.4 274.2h0M124.5 285.6h0M276.1 285.5h0M276.0 285.5h0M249.1 286.2h0M322.5 286.2h0M239.2 274.4h0M254.3 288.5h0M193.3 285.4h0M198.5 287.9h0M280.1 289.2h0M355.1 270.7h0M160.1 287.4h0M277.9 287.8h0M83.2 272.4h0M326.0 287.9h0M321.6 273.7h0M339.0 286.7h0M166.8 285.2h0M142.0 284.8h0M308.1 284.9h0M361.9 269.7h0M73.7 285.4h0M109.7 273.9h0M306.3 287.1h0M341.3 286.5h0M204.6 285.4h0M99.8 274.6h0M63.6 274.3h0M66.2 269.9h0M79.0 273.6h0M75.7 289.4h0M337.2 284.7h0M259.9 273.7h0M236.6 274.2h0M105.8 286.3h0M341.0 271.2h0M120.9 284.8h0M162.1 285.4h0M151.7 288.5h0M188.0 290.3h0M241.3 274.3h0M228.2 274.4h0M190.6 285.8h0M168.7 289.9h0M283.5 284.6h0M225.6 274.5h0M270.0 285.0h0M353.7 274.0h0M110.4 289.8h0M159.9 273.9h0M284.9 286.3h0M359.1 286.4h0M62.7 273.9h0M245.1 274.4h0M140.9 269.0h0M121.6 272.8h0M148.0 273.5h0M77.5 286.7h0M338.6 273.8h0M325.4 285.4h0M89.6 285.0h0M241.7 273.8h0M281.4 287.1h0M329.7 273.0h0M364.9 287.2h0M182.2 284.7h0M287.0 274.1h0M295.3 288.3h0M244.5 285.0h0M329.4 274.0h0M177.0 287.3h0M307.6 285.3h0M358.0 285.2h0M269.3 273.1h0M373.4 273.6h0M152.0 273.5h0M122.9 271.6h0M121.2 273.7h0M320.6 285.2h0M216.9 273.1h0M103.6 273.6h0M129.0 286.2h0M136.5 273.7h0M300.1 273.7h0M243.2 272.0h0M326.4 271.9h0M245.6 285.9h0M255.1 274.5h0M332.0 285.2h0M107.1 274.1h0M328.2 288.1h0M187.8 284.9h0M118.0 272.5h0M370.2 284.7h0M358.8 274.2h0M350.2 274.3h0M262.9 273.1h0M151.1 272.5h0M197.0 287.0h0M121.2 273.9h0M333.5 271.1h0M226.2 272.8h0M318.2 273.6h0M330.8 271.0h0M64.2 287.0h0M134.0 286.7h0M316.8 290.1h0M315.0 272.9h0M221.3 285.6h0M340.4 272.4h0M337.5 268.7h0M157.8 273.6h0M122.7 285.0h0M155.9 284.6h0M369.9 285.1h0M364.0 285.6h0M192.9 287.3h0M67.0 285.3h0M319.1 271.0h0M247.4 286.5h0M263.0 285.7h0M226.5 286.7h0M305.1 272.1h0M155.0 285.9h0M198.9 272.8h0M72.5 286.0h0M192.0 272.1h0M306.8 285.5h0M156.9 287.2h0M204.5 287.3h0M175.7 274.3h0M121.0 273.8h0M139.6 273.5h0M194.9 285.8h0M201.8 286.3h0M92.1 274.5h0M243.9 289.3h0M154.6 274.0h0M185.7 286.1h0M100.0 285.2h0M101.0 285.6h0M71.7 274.1h0M318.4 273.9h0M127.8 271.9h0M220.1 270.2h0M302.7 274.0h0M193.9 273.9h0M329.4 271.2h0M103.8 273.5h0M95.4 286.4h0M133.3 274.0h0M181.3 286.1h0M304.3 272.2h0M374.6 286.8h0M62.3 274.5h0M330.7 288.0h0M319.6 273.2h0M63.6 272.7h0M276.4 286.4h0M326.9 274.2h0M375.9 286.0h0M184.0 284.7h0M304.7 271.5h0M71.8 287.0h0M198.8 286.5h0M133.3 285.3h0M222.7 272.1h0M253.7 285.1h0M162.6 286.1h0M283.6 272.5h0M354.2 273.9h0M153.7 273.2h0M176.5 272.5h0M151.1 286.6h0M187.2 286.4h0M135.5 285.4h0M101.1 285.9h0M63.4 285.0h0M352.7 272.5h0M365.4 284.9h0M205.2 285.0h0M291.5 273.6h0M170.7 272.3h0M170.0 284.7h0M154.2 269.5h0M229.2 274.5h0M291.4 269.2h0M155.6 271.7h0M246.7 274.2h0M350.1 288.8h0M98.8 289.9h0M373.7 273.4h0M334.0 271.1h0M86.0 274.2h0M198.5 272.1h0M253.9 272.4h0M329.5 284.7h0M376.8 285.4h0M290.5 272.8h0M307.0 267.5h0M106.6 274.1h0M224.6 285.0h0M243.0 274.5h0M197.8 274.2h0M376.0 285.1h0M366.5 288.4h0M197.2 274.6h0M211.5 284.7h0M214.8 270.8h0M68.9 273.7h0M87.5 274.2h0M272.8 270.2h0M262.4 285.3h0M141.4 273.5h0M186.0 285.5h0M274.6 272.7h0M233.6 285.0h0M103.1 274.0h0M222.8 272.3h0M119.5 285.4h0M313.3 284.8h0M144.8 285.6h0M353.6 288.4h0M346.2 285.0h0M76.0 284.8h0M248.4 272.6h0M313.2 272.9h0M312.9 285.9h0M140.4 285.5h0M170.2 284.8h0M231.6 285.1h0M242.1 272.0h0M67.5 286.3h0M366.9 273.1h0M260.8 272.7h0M279.0 272.8h0M297.4 274.2h0M361.6 285.7h0M247.7 274.2h0M192.5 288.5h0M323.1 285.7h0M378.5 285.3h0M309.3 285.1h0M308.4 272.3h0M262.4 273.2h0M215.7 273.5h0M285.7 286.5h0M166.4 273.3h0M75.8 285.0h0M104.2 272.8h0M161.0 273.8h0M372.2 284.6h0M243.5 286.5h0M136.9 272.9h0M76.5 286.7h0M246.5 273.1h0M247.1 285.0h0M342.3 274.1h0M361.1 290.7h0M344.6 271.6h0M292.7 285.3h0M134.3 272.1h0M241.8 287.4h0M110.4 274.3h0M187.6 286.3h0M106.9 273.7h0M219.0 274.5h0M352.7 274.6h0M147.4 270.0h0M150.1 273.5h0M164.0 272.7h0M138.8 270.7h0M211.6 288.2h0M352.1 271.2h0M131.5 286.8h0M212.5 273.9h0M219.8 274.4h0M197.6 273.0h0M336.9 274.1h0M226.6 273.1h0M68.1 274.1h0M124.0 273.0h0M110.3 285.0h0M144.2 272.6h0M173.6 285.9h0M229.5 287.6h0M211.2 272.1h0M80.2 270.6h0M298.4 274.3h0M113.4 272.7h0M289.5 285.9h0M337.8 274.4h0M342.8 285.6h0M141.6 272.3h0M322.9 285.0h0M89.4 284.7h0M133.6 273.3h0M170.2 272.8h0M127.3 284.8h0M312.5 284.8h0M350.7 273.4h0M153.8 284.7h0M260.9 269.1h0M203.9 273.5h0M101.3 285.4h0M156.8 284.8h0M66.5 274.3h0M272.7 285.4h0M293.7 287.0h0M140.6 273.0h0M215.1 285.1h0M180.9 274.5h0M308.3 284.8h0M326.2 274.0h0M337.4 274.1h0M367.1 287.6h0M165.6 274.2h0M185.2 288.3h0M260.0 284.8h0M374.5 284.9h0M134.4 273.1h0M325.8 273.8h0M183.0 286.9h0M144.7 284.8h0M121.6 287.8h0M290.6 284.7h0M105.3 273.6h0M367.3 284.6h0M373.4 285.6h0M156.8 284.6h0M117.5 273.2h0M331.0 287.6h0M365.7 285.6h0M286.7 284.7h0M125.4 272.6h0M297.1 286.3h0M262.8 284.7h0M200.8 285.3h0M128.9 273.9h0M120.6 272.4h0M201.9 274.4h0M99.3 285.0h0M102.4 273.2h0M88.6 286.5h0M348.1 286.2h0M163.6 271.0h0M158.0 273.4h0M230.4 285.3h0M153.7 273.1h0M151.8 273.1h0M190.8 272.6h0M369.7 268.6h0M108.7 274.3h0M356.3 273.7h0M375.4 284.9h0M86.1 273.3h0M327.4 284.9h0M164.6 272.4h0M204.4 288.3h0M121.4 273.0h0M221.7 273.9h0M170.1 274.6h0M212.8 270.6h0M116.3 273.6h0M171.8 271.6h0M264.6 274.4h0M156.3 287.9h0M336.8 286.9h0M169.0 274.2h0M160.3 273.1h0M346.4 285.0h0M176.8 272.6h0M169.7 284.7h0M187.8 288.7h0M63.7 273.5h0M235.9 286.4h0M297.4 273.8h0M127.9 285.6h0M110.9 271.0h0M129.9 285.2h0M132.4 272.1h0M315.4 289.8h0M132.4 285.3h0M201.6 287.2h0M233.1 274.3h0M347.6 274.2h0M370.4 271.2h0M197.1 285.1h0M361.9 273.8h0M191.8 273.3h0M298.1 285.7h0M286.9 272.6h0M175.1 274.2h0M315.9 273.7h0M339.1 273.5h0M362.1 286.2h0M81.4 287.6h0M311.6 274.0h0M156.8 272.1h0M277.1 284.9h0M63.4 285.0h0M374.6 273.3h0M336.9 285.7h0M315.5 271.5h0M178.6 286.1h0M104.0 273.5h0M126.1 272.3h0M324.6 285.0h0M109.1 271.6h0M255.9 273.7h0M71.0 286.9h0M273.8 273.7h0M366.2 284.9h0M232.2 289.6h0M111.1 273.7h0M367.7 286.6h0M345.3 285.6h0M339.8 285.3h0M215.8 287.3h0M309.0 287.1h0M272.7 273.6h0M307.1 284.9h0M87.0 286.7h0M307.2 284.9h0M171.6 288.6h0M215.8 271.9h0M347.9 273.8h0M376.2 274.5h0M73.4 273.3h0M178.1 285.5h0M282.3 273.3h0M146.5 272.0h0M313.3 273.6h0M98.2 286.2h0M323.0 272.7h0M256.0 286.0h0M85.5 295.1h0M180.6 272.9h0M173.2 284.9h0M68.8 289.9h0M229.2 274.1h0M187.1 285.4h0M252.4 285.7h0M128.3 273.7h0M276.9 287.9h0M281.9 286.5h0M104.7 287.0h0M250.8 286.2h0M115.7 271.8h0M268.2 286.6h0M235.1 289.1h0M373.6 286.6h0M276.2 289.8h0M310.8 285.2h0M103.4 274.4h0M360.7 288.7h0M338.2 287.3h0M132.8 286.7h0M277.9 273.8h0M330.0 285.9h0M317.9 286.6h0M295.5 284.7h0M94.6 286.0h0M272.1 274.6h0M224.4 270.8h0M239.1 285.1h0M331.8 285.3h0M222.3 273.3h0M355.8 287.9h0M294.5 273.7h0M191.6 285.6h0M155.1 285.8h0M108.1 273.3h0M194.9 284.6h0M153.1 274.4h0M63.0 284.9h0M251.2 274.1h0M104.3 284.6h0M242.0 285.9h0M239.5 287.5h0M264.7 285.2h0M315.5 286.7h0M257.0 286.6h0M289.9 273.3h0M376.3 272.5h0M68.0 273.0h0M109.5 285.9h0M220.0 284.8h0M330.8 271.4h0M81.4 289.4h0M356.0 286.2h0M318.3 273.4h0M303.9 274.6h0M183.8 273.5h0M301.5 288.6h0M143.3 285.7h0M127.0 274.2h0M150.0 287.7h0M242.7 273.2h0M331.4 284.8h0M341.0 287.3h0M330.7 273.9h0M278.8 270.2h0M280.4 286.3h0M299.8 273.8h0M127.5 272.9h0M225.3 286.0h0M254.5 272.2h0M199.2 268.3h0M254.3 285.3h0M144.7 286.0h0M337.3 284.9h0M113.4 273.9h0M121.5 285.3h0M254.3 270.8h0M246.2 274.5h0M125.4 271.2h0M258.3 274.4h0M234.5 271.8h0M116.6 285.1h0M134.5 272.9h0M88.3 271.0h0M353.3 274.3h0M242.9 285.3h0M295.8 284.7h0M317.9 269.6h0M191.5 274.5h0M369.3 286.6h0M219.4 287.7h0M196.9 273.4h0M344.2 287.8h0M263.8 273.1h0M329.0 273.8h0M203.5 270.6h0M335.7 274.2h0M63.9 272.5h0M255.7 287.1h0M205.7 272.6h0M301.1 273.5h0M239.2 273.5h0M356.8 274.3h0M372.2 271.6h0M334.5 288.3h0M364.0 274.2h0M313.8 287.0h0M129.6 285.6h0M227.1 274.6h0M89.7 273.1h0M249.9 286.9h0M318.8 284.8h0M365.6 272.5h0M75.1 272.9h0M273.5 272.4h0M102.6 284.7h0M362.3 272.7h0M168.4 286.5h0M61.6 274.1h0M218.9 287.0h0M87.8 273.2h0M185.6 286.5h0M129.7 285.1h0M289.8 287.2h0M185.8 271.0h0M345.0 274.4h0M183.2 272.6h0M219.4 285.5h0M317.4 273.6h0M259.1 272.6h0M218.5 285.1h0M339.1 288.8h0M208.6 274.1h0M112.1 270.3h0M271.7 284.6h0M266.3 285.5h0M356.1 274.1h0M96.6 284.9h0M236.7 285.0h0M135.0 286.4h0M66.9 284.8h0M372.0 287.7h0M114.0 286.4h0M270.7 284.9h0M232.7 273.0h0M87.4 285.4h0M106.1 274.0h0M218.0 285.2h0M232.0 285.7h0M205.7 285.5h0M380.1 270.8h0M178.5 272.3h0M283.6 273.2h0M165.4 274.0h0M280.8 273.0h0M96.8 272.8h0M198.9 285.0h0M275.7 284.7h0M112.5 274.5h0M171.9 273.7h0M235.1 285.1h0M307.7 273.3h0M332.7 272.9h0M339.7 272.9h0M202.2 285.8h0M207.9 273.2h0M319.1 286.4h0M306.4 286.3h0M375.7 284.8h0M212.6 273.4h0M317.9 272.6h0M91.7 271.4h0M317.1 271.2h0M106.5 285.2h0M227.2 273.8h0M243.0 273.8h0M290.4 271.1h0M290.8 286.3h0M88.1 274.0h0M308.3 274.3h0M68.5 285.3h0M292.5 274.0h0M79.2 273.8h0M104.8 285.4h0M190.4 270.3h0M66.5 272.9h0M77.0 288.2h0M193.0 273.7h0M340.9 286.7h0M147.4 272.6h0M368.5 287.0h0M112.7 285.5h0M376.7 272.9h0M223.0 286.1h0M364.1 272.6h0M235.9 284.7h0M109.7 285.2h0M234.6 284.9h0M158.0 274.0h0M284.3 271.6h0M138.4 287.2h0M172.0 273.5h0M138.7 288.3h0M270.0 274.2h0M97.7 285.1h0M99.5 273.9h0M160.1 271.0h0M347.2 271.6h0M371.4 273.4h0M372.9 272.8h0M341.4 271.6h0M107.2 273.7h0M142.3 274.4h0M69.8 273.6h0M183.3 285.5h0M274.4 273.4h0M164.6 285.2h0M214.2 291.1h0M117.2 272.6h0M71.1 272.6h0M252.2 271.2h0M291.8 289.3h0M139.7 272.3h0M320.6 286.6h0M122.9 287.2h0M203.7 286.1h0M102.2 272.7h0M262.5 288.0h0M107.7 284.7h0M359.6 274.5h0M268.6 271.2h0M139.4 271.3h0M325.6 284.7h0M315.6 285.4h0M240.7 273.7h0M365.8 273.1h0M335.5 273.6h0M104.3 273.2h0M90.3 272.7h0M320.6 286.6h0M281.5 273.2h0M276.5 284.8h0M311.8 271.6h0M135.7 273.4h0M265.5 285.0h0M276.8 273.9h0M173.0 274.2h0M370.9 286.6h0M72.5 273.2h0M251.9 272.8h0M293.6 284.6h0M98.7 273.7h0M302.7 287.3h0M373.1 284.7h0M122.9 273.6h0M244.9 271.2h0M369.2 272.0h0M160.4 273.9h0M113.2 285.0h0M177.9 289.4h0M287.1 285.6h0M167.4 273.3h0M230.5 274.5h0M130.4 272.8h0M255.2 273.8h0M175.8 286.8h0M369.8 284.9h0M349.8 273.8h0M63.4 286.2h0M211.0 271.3h0M152.6 273.6h0M292.0 271.6h0M240.0 272.2h0M253.9 274.0h0M300.9 273.1h0M345.3 273.4h0M353.4 274.3h0M273.6 269.7h0M204.7 285.3h0M228.3 273.7h0M194.1 290.3h0M289.3 287.0h0M233.3 286.5h0M309.6 271.2h0M362.0 287.7h0M327.3 287.3h0M305.3 273.5h0M304.3 284.7h0M124.1 274.3h0M102.2 272.2h0M172.6 274.1h0M232.5 285.0h0M157.1 273.6h0M354.5 285.3h0M280.6 285.6h0M348.9 286.1h0M366.0 284.6h0M91.1 285.4h0M69.7 274.5h0M90.0 273.5h0M106.6 272.0h0M243.1 271.8h0M296.1 285.2h0M122.3 286.2h0M133.6 273.0h0M169.5 286.9h0M310.7 270.6h0M181.5 272.6h0M136.3 274.3h0M266.9 285.2h0M342.0 285.0h0M226.9 287.4h0M331.0 286.4h0M230.3 284.9h0M329.2 271.3h0M206.7 290.0h0M187.3 272.7h0M356.0 270.0h0M231.4 286.8h0M285.3 270.2h0M205.1 274.0h0M330.9 273.0h0M264.2 271.7h0M61.9 285.3h0M83.0 271.5h0M302.7 273.2h0M199.5 287.6h0M321.1 287.2h0M164.5 271.4h0M282.8 273.7h0M227.9 271.4h0M156.1 286.1h0M224.0 285.4h0M233.2 274.1h0M118.3 272.6h0M232.6 273.4h0M89.8 286.0h0M321.4 274.4h0M347.9 271.7h0M349.3 286.6h0M69.4 286.1h0M155.3 285.8h0M185.0 289.1h0M262.9 274.5h0M257.2 272.8h0M204.1 284.6h0M201.9 274.2h0M78.3 274.0h0M161.8 287.8h0M220.9 289.6h0M349.8 272.1h0M244.4 272.6h0M319.7 285.6h0M112.5 286.1h0M330.2 272.8h0M143.3 285.1h0M346.7 271.7h0M283.9 285.9h0M274.6 274.0h0M252.5 271.7h0M305.7 271.9h0M180.1 270.2h0M333.6 273.6h0M172.2 272.9h0M327.9 285.8h0M173.4 284.6h0M123.8 287.2h0M128.4 285.3h0M355.5 286.9h0M357.2 286.7h0M135.9 274.0h0M161.8 285.5h0M154.7 286.4h0M324.3 285.4h0M199.2 272.9h0M274.7 273.8h0M364.2 286.2h0M103.1 284.8h0M116.6 272.8h0M240.0 285.4h0M250.6 273.7h0M265.2 273.8h0M281.5 273.1h0M329.2 273.7h0M277.6 285.6h0M170.8 286.7h0M146.1 273.1h0M235.4 274.3h0M333.5 284.7h0M346.1 274.3h0M213.0 290.3h0M102.9 274.4h0M347.0 273.2h0M101.6 284.9h0M282.8 286.1h0M291.4 285.5h0M242.0 271.0h0M305.3 273.8h0M72.6 268.7h0M347.2 273.4h0M380.1 286.4h0M215.9 274.2h0M170.4 286.6h0M152.5 284.9h0M171.0 285.1h0M330.3 274.6h0M217.2 285.0h0M332.2 273.9h0M294.6 285.4h0M322.4 285.5h0M142.1 285.9h0M138.0 284.9h0M268.2 286.3h0M343.4 285.2h0M100.5 287.1h0M227.6 273.0h0M197.8 285.1h0M335.3 286.0h0M154.8 273.0h0M285.9 285.6h0M293.4 288.5h0M143.9 285.3h0M206.3 273.6h0M194.4 269.7h0M75.5 289.5h0M180.7 284.8h0M228.6 270.5h0M360.3 273.5h0M376.9 285.3h0M340.0 274.1h0M137.9 284.9h0M115.7 272.6h0M379.6 285.5h0M338.3 272.9h0M298.4 285.8h0M164.4 286.1h0M269.8 270.9h0M259.4 285.4h0M115.0 286.6h0M148.6 286.2h0M123.3 285.9h0M81.8 286.8h0M309.2 274.1h0M82.4 285.1h0M331.0 272.3h0M173.8 273.6h0M82.6 272.1h0M64.1 289.0h0M135.2 285.9h0M158.1 285.2h0M182.3 274.1h0M312.4 272.7h0M106.7 287.2h0M335.5 272.9h0M248.3 286.6h0M290.5 285.3h0M89.0 286.0h0M228.0 271.4h0M203.1 270.3h0M290.1 284.7h0M77.2 286.7h0M229.3 273.1h0M124.4 290.4h0M116.0 273.9h0M364.8 284.8h0M283.8 287.4h0M307.8 271.9h0M144.1 274.3h0M278.4 284.9h0M128.3 284.8h0M271.9 287.5h0M79.5 286.9h0M252.0 274.0h0M328.4 271.1h0M80.9 285.0h0M127.6 273.0h0M161.8 271.8h0M228.3 286.4h0M66.3 270.9h0M167.7 287.6h0M250.6 271.8h0M91.7 285.5h0M148.6 272.3h0M274.1 284.7h0M167.9 272.9h0M167.8 284.7h0M318.9 272.5h0M243.8 271.3h0M300.9 287.2h0M282.0 274.6h0M344.7 274.4h0M203.5 285.6h0M294.0 272.6h0M174.9 272.7h0M63.9 286.3h0M254.6 285.5h0M380.2 274.3h0M349.7 269.0h0M231.9 274.0h0M197.5 272.9h0M313.0 287.8h0M264.4 284.8h0M211.6 271.7h0M285.1 271.6h0M105.7 274.1h0M174.4 290.2h0M177.0 274.2h0M257.8 284.8h0M108.1 273.9h0M88.4 272.9h0M136.0 274.4h0M92.8 286.6h0M89.4 290.2h0M330.0 284.7h0M267.6 286.9h0M271.9 286.1h0M319.6 272.5h0M84.0 285.4h0M96.2 270.5h0M141.9 285.5h0M202.7 274.3h0M155.6 285.4h0M75.4 287.2h0M72.0 287.0h0M242.6 274.1h0M151.7 288.6h0M337.6 274.2h0M166.2 288.0h0M220.7 271.2h0M214.1 284.7h0M88.3 284.8h0M272.1 274.5h0M198.7 290.0h0M281.5 272.6h0M315.2 273.8h0M89.9 288.3h0M63.4 286.4h0M212.2 286.4h0M69.1 285.6h0M315.9 285.8h0M95.9 274.0h0M234.7 285.6h0M76.6 274.4h0M364.5 273.3h0M296.6 271.9h0M80.6 270.7h0M305.8 286.7h0M233.7 285.6h0M225.4 274.4h0M88.4 272.4h0M209.5 272.2h0M203.4 285.4h0M100.4 271.9h0M187.5 273.9h0M245.6 284.7h0M324.7 272.6h0M175.7 285.9h0M154.7 286.3h0M84.6 284.7h0M231.7 284.9h0M253.7 284.8h0M225.7 286.1h0M149.0 285.1h0M109.0 289.4h0M87.6 274.6h0M66.6 273.9h0M298.5 273.7h0M175.6 273.9h0M99.0 270.9h0M303.3 287.8h0M327.6 284.7h0M342.6 285.5h0M295.1 285.3h0M287.3 286.2h0M208.9 286.8h0M337.9 273.8h0M345.4 269.5h0M193.6 285.4h0M113.2 273.6h0M278.4 284.6h0M362.7 274.2h0M266.8 284.7h0M334.9 285.1h0M364.5 273.5h0M351.6 273.3h0M222.8 273.3h0M342.7 284.8h0M221.8 289.4h0M163.7 274.2h0M311.1 274.0h0M125.4 273.2h0M325.4 284.9h0M64.2 287.4h0M197.6 270.8h0M244.2 285.1h0M77.7 271.9h0M209.1 286.1h0M264.6 285.3h0M111.2 285.3h0M337.3 270.4h0M331.4 286.0h0M129.3 284.9h0M270.9 287.7h0M127.5 285.3h0M79.0 272.8h0M205.0 274.4h0M134.2 271.7h0M270.6 288.2h0M103.0 288.5h0M166.1 273.7h0M202.1 273.4h0M264.9 289.2h0M236.5 285.2h0M133.7 271.4h0M195.1 273.7h0M324.0 273.4h0M337.6 285.9h0M312.5 285.5h0M103.0 271.3h0M102.6 273.0h0M171.9 270.2h0M375.8 272.1h0M315.7 272.6h0M238.3 272.1h0M100.7 284.7h0M292.2 273.3h0M175.7 285.8h0M283.6 272.7h0M90.0 274.2h0M245.4 274.3h0M262.9 284.7h0M305.7 285.2h0M72.0 270.7h0M299.7 273.4h0M363.3 285.3h0M150.6 271.5h0M265.7 273.5h0M306.1 274.3h0M100.1 273.1h0M339.1 285.1h0M112.3 274.1h0M332.5 273.2h0M295.1 286.8h0M76.4 285.9h0M274.6 273.7h0M67.4 285.1h0M157.4 285.1h0M78.4 273.2h0M72.5 272.4h0M159.7 273.5h0M90.4 288.0h0M327.2 272.0h0M343.5 272.5h0M353.6 273.8h0M94.6 273.2h0M166.2 285.5h0M322.8 286.5h0M209.9 272.4h0M283.2 286.4h0M376.5 269.5h0M173.4 272.9h0M316.1 272.2h0M313.0 274.3h0M234.0 285.2h0M79.1 284.6h0M304.9 287.5h0M125.7 272.0h0M79.4 271.6h0M310.4 286.7h0M101.3 267.1h0M210.7 289.2h0M149.8 286.3h0M272.3 286.4h0M267.2 273.1h0M271.8 273.3h0M69.8 287.1h0M184.8 285.1h0M179.0 285.8h0M124.2 271.2h0M114.6 287.2h0M180.2 273.4h0M273.8 267.3h0M72.1 285.1h0M286.7 285.2h0M213.4 284.9h0M130.2 272.9h0M61.9 287.2h0M187.8 273.4h0M336.1 272.7h0M291.8 273.2h0M323.1 271.2h0M236.5 284.8h0M291.2 286.8h0M379.4 272.6h0M379.9 273.4h0M312.0 274.2h0M135.8 285.2h0M82.8 285.0h0M139.7 272.3h0M101.6 273.5h0M254.8 270.1h0M80.4 272.8h0M109.3 286.8h0M99.6 286.8h0M164.0 273.3h0M168.6 272.4h0M100.2 273.8h0M349.4 273.8h0M124.9 272.1h0M361.6 285.9h0M139.3 274.5h0M186.5 286.3h0M334.6 273.7h0M311.4 285.2h0M335.5 284.8h0M195.9 271.9h0M376.3 272.4h0M150.6 273.4h0M62.2 290.2h0M204.2 287.0h0M375.2 271.2h0M115.6 286.9h0M140.9 284.8h0M367.0 285.5h0M332.3 289.0h0M368.9 288.4h0M100.1 273.5h0M316.9 270.7h0M193.2 285.5h0M199.0 273.7h0M146.7 285.1h0M375.4 272.2h0M285.8 284.6h0M229.7 287.6h0M201.6 286.6h0M230.2 273.6h0M157.0 273.4h0M365.4 273.7h0M139.1 285.1h0M275.1 285.5h0M82.8 268.3h0M337.8 284.9h0M62.9 274.5h0M307.8 274.3h0M136.6 286.4h0M281.1 272.7h0M242.9 285.0h0M133.9 274.5h0M107.4 285.3h0M311.1 288.7h0M234.1 287.3h0M265.5 272.9h0M79.0 284.7h0M67.0 284.9h0M202.7 272.7h0M210.1 285.3h0M176.5 273.9h0M83.0 284.7h0M103.0 271.2h0M240.5 272.5h0M66.4 287.0h0M343.0 272.2h0M175.0 274.4h0M240.1 286.7h0M347.5 273.0h0M284.6 284.6h0M62.6 288.1h0M286.6 286.4h0M151.9 285.6h0M66.8 289.6h0M61.4 285.3h0M86.5 286.4h0M68.7 286.1h0M213.8 273.1h0M307.4 285.6h0M149.5 273.2h0M149.4 270.0h0M87.5 272.3h0M135.5 291.9h0M120.7 286.2h0M155.2 288.8h0M90.7 285.5h0M348.2 274.0h0M275.5 285.8h0M304.5 285.4h0M151.2 274.4h0M353.6 272.8h0M345.0 274.5h0M272.5 285.3h0M378.4 273.9h0M305.9 272.3h0M74.5 286.9h0M351.2 284.6h0M168.8 287.2h0M162.3 285.2h0M143.5 286.5h0M145.1 285.8h0M94.0 271.9h0M279.8 272.1h0M123.3 285.5h0M373.2 288.3h0M216.9 284.8h0M103.0 274.6h0M302.9 271.5h0M152.2 284.9h0M264.9 273.4h0M145.0 285.6h0M275.1 287.4h0M93.9 274.2h0M349.5 292.5h0M198.3 285.2h0M120.5 274.2h0M219.9 287.0h0M334.7 274.2h0M115.5 285.1h0M267.9 273.0h0M292.7 273.4h0M83.5 285.3h0M94.8 274.5h0M232.0 274.0h0M376.0 284.9h0M320.0 272.2h0M305.3 284.9h0M270.8 273.8h0M350.4 274.4h0M326.7 274.2h0M170.7 285.8h0M250.0 273.9h0M259.2 268.9h0M134.6 284.7h0M365.5 272.0h0M317.3 292.8h0M82.5 274.2h0M305.8 272.8h0M87.6 273.0h0M216.4 288.6h0M217.4 285.9h0M181.3 270.7h0M348.9 285.3h0M149.7 270.9h0M116.6 272.5h0M297.6 272.4h0M222.6 284.7h0M375.4 285.3h0M85.0 274.6h0M308.8 274.3h0M105.7 289.9h0M282.9 272.4h0M312.4 274.3h0M122.9 284.8h0M283.9 270.5h0M106.7 287.2h0M95.4 285.9h0M251.7 273.1h0M354.4 274.0h0M103.3 286.0h0M319.3 274.4h0M116.5 273.9h0M321.4 285.4h0M253.0 274.0h0M115.1 285.4h0M186.4 273.4h0M307.9 272.5h0M95.9 285.2h0M246.2 285.1h0M328.4 286.2h0M132.3 286.3h0M137.8 289.9h0M341.8 285.0h0M377.0 287.2h0M304.1 274.1h0M373.8 285.6h0M103.2 273.3h0M283.3 285.0h0M111.4 290.5h0M240.3 272.1h0M269.3 284.7h0M201.0 285.4h0M81.8 273.2h0M312.0 285.4h0M97.2 284.6h0M65.8 272.9h0M232.7 272.5h0M148.0 286.4h0M244.5 271.8h0M84.8 270.4h0M346.8 272.6h0M155.5 269.5h0M202.4 273.5h0M299.6 286.5h0M344.7 274.0h0M226.1 274.4h0M253.6 290.4h0M323.1 273.6h0M372.8 284.7h0M269.3 284.7h0M323.1 286.5h0M149.4 287.8h0M276.2 287.3h0M118.2 284.7h0M286.7 274.5h0M313.6 274.4h0M259.8 271.0h0M201.6 285.0h0M163.5 273.8h0M374.9 286.8h0M214.0 285.8h0M286.4 287.6h0M356.9 286.2h0M127.1 285.3h0M357.9 285.3h0M249.6 286.2h0M227.9 274.6h0M125.9 285.6h0M79.2 272.3h0M93.7 285.1h0M155.2 287.8h0M336.2 269.8h0M214.5 273.9h0M323.2 273.7h0M64.9 273.5h0M67.9 272.1h0M314.2 274.2h0M378.1 285.7h0M264.6 272.6h0M311.1 272.7h0M62.4 285.0h0M217.8 273.5h0M97.9 285.2h0M154.0 285.5h0M79.0 270.5h0M274.5 271.8h0M129.3 286.4h0M263.4 287.0h0M231.5 286.5h0M275.8 274.0h0M309.5 274.0h0M64.2 287.4h0M327.2 270.6h0M291.4 286.6h0M100.5 285.6h0M370.0 287.2h0M260.5 273.9h0M75.2 287.3h0M124.0 287.6h0M189.5 273.3h0M192.0 273.7h0M214.6 284.9h0M330.1 274.2h0M63.1 271.8h0M222.9 274.1h0M185.6 287.9h0M242.8 273.9h0M116.6 285.9h0M147.8 273.8h0M98.6 286.3h0M168.9 285.8h0M289.8 285.2h0M118.4 272.7h0M296.2 274.3h0M61.9 284.8h0M295.3 273.1h0M310.4 270.5h0M138.5 284.6h0M335.9 274.5h0M326.5 271.6h0M250.5 272.6h0M143.0 274.1h0M88.7 273.5h0M129.8 271.2h0M287.6 284.9h0M212.7 285.1h0M377.4 284.9h0M70.6 271.9h0M155.2 285.3h0M195.5 286.5h0M252.6 272.8h0M357.0 274.6h0M226.5 284.6h0M267.3 284.9h0M254.2 285.7h0M217.6 286.0h0M325.7 274.5h0M326.5 286.0h0M212.2 286.1h0M350.9 273.4h0M201.4 272.1h0M136.9 286.0h0M279.6 285.6h0M259.3 271.4h0M117.4 289.6h0M90.4 273.0h0M265.2 270.1h0M225.1 273.9h0M197.5 285.2h0M138.3 284.7h0M153.2 273.1h0M293.4 270.7h0M286.9 273.1h0M268.5 287.1h0M118.4 285.1h0M238.4 284.9h0M363.7 286.1h0M318.2 285.8h0M153.6 273.6h0M62.0 272.7h0M291.9 274.4h0M342.3 273.9h0M176.7 286.4h0M368.5 285.1h0M355.2 287.2h0M355.6 284.6h0M207.5 287.0h0M190.3 284.6h0M288.9 273.8h0M180.5 274.0h0M131.0 284.9h0M301.5 287.4h0M255.7 274.0h0M150.2 285.1h0M106.6 286.4h0M317.1 286.2h0M325.8 285.6h0M173.3 271.6h0M281.7 272.7h0M236.3 285.2h0M353.9 285.1h0M310.7 271.9h0M239.7 273.4h0M205.5 285.4h0M67.4 274.0h0M197.3 284.8h0M296.6 273.2h0M155.2 285.8h0M113.8 284.9h0M91.0 272.4h0M241.2 290.1h0M80.1 274.5h0M307.3 286.4h0M344.7 273.7h0M237.6 270.7h0M148.7 271.5h0M356.7 285.0h0M222.8 286.0h0M342.9 273.6h0M222.0 271.4h0M165.2 285.8h0M351.0 286.4h0M201.8 273.1h0M173.1 288.4h0M261.8 291.3h0M212.3 285.1h0M361.6 287.5h0M87.0 284.9h0M350.5 273.9h0M253.3 272.1h0M287.6 285.3h0M350.6 271.6h0M177.5 286.2h0M213.5 273.7h0M218.1 285.4h0M324.4 271.6h0M255.8 268.0h0M115.6 268.7h0M100.6 267.5h0M301.0 268.0h0M105.8 266.9h0M249.5 267.1h0M341.3 266.3h0M315.8 266.7h0M187.2 269.0h0M341.3 265.9h0M122.8 265.6h0M271.6 264.0h0M221.7 268.8h0M88.3 267.8h0M157.2 263.8h0M104.7 268.2h0M262.2 267.2h0M333.8 268.8h0M240.5 268.9h0M265.5 266.1h0M306.8 268.7h0M208.4 268.2h0M223.0 268.5h0M283.3 268.4h0M256.0 268.2h0M65.1 266.9h0M102.1 267.2h0M83.6 267.5h0M110.7 290.4h0M206.4 291.0h0M305.8 295.6h0M164.2 290.4h0M338.6 297.7h0M299.6 290.7h0M347.0 296.1h0M201.7 295.7h0M324.4 292.2h0M267.4 291.7h0M167.3 290.9h0M353.1 293.9h0M74.4 296.1h0M341.9 291.7h0M351.0 290.4h0M290.6 291.5h0M169.7 291.3h0M62.3 290.8h0M108.0 290.8h0M293.2 290.8h0M104.4 293.2h0M234.4 295.5h0M112.7 293.4h0M79.5 291.5h0M259.5 291.0h0M278.2 297.1h0M234.7 291.0h0M301.0 291.4h0M170.1 291.1h0M117.0 296.5h0M343.3 292.9h0M92.7 294.8h0M303.7 290.6h0M277.8 296.7h0M168.3 290.9h0M81.7 291.1h0M286.1 290.6h0M335.1 290.6h0M191.5 290.9h0M276.5 290.9h0M100.7 300.0h0M131.4 313.0h0M242.5 300.5h0M314.3 303.0h0M360.5 300.3h0" stroke="#a72626" stroke-width="4.0" stroke-linecap="round" fill="none"/>
<path d="M104.3 125.2h0M138.9 124.0h0M184.8 121.7h0M250.0 114.3h0M226.6 134.1h0M223.5 143.5h0M196.7 147.7h0M164.6 150.6h0M154.4 160.5h0M178.1 166.9h0M253.8 133.3h0M334.6 133.1h0M220.2 221.4h0M347.4 200.4h0M347.4 220.9h0" stroke="#b3b3b3" stroke-width="4.0" stroke-linecap="round" fill="none"/>
<path d="M517.1 101.2h0M533.5 101.4h0M565.0 101.7h0M536.4 102.2h0M532.5 102.5h0M511.0 102.6h0M539.2 103.2h0M511.3 103.3h0M555.7 103.6h0M506.4 104.3h0M561.5 104.4h0M550.8 104.9h0M554.2 105.3h0M526.3 105.4h0M523.8 105.8h0M536.4 106.3h0M528.3 106.7h0M560.0 106.9h0M573.9 107.3h0M534.9 107.6h0M546.1 107.9h0M544.7 108.4h0M542.2 108.9h0M539.8 108.9h0M540.8 109.3h0M551.2 109.9h0M524.6 110.0h0M555.5 110.7h0M507.7 110.8h0M537.1 111.3h0M576.1 111.7h0M533.8 112.2h0M541.1 112.3h0M538.7 112.8h0M565.3 113.3h0M525.6 113.5h0M552.2 114.1h0M529.1 114.6h0M516.9 115.0h0M507.0 115.4h0M563.0 115.5h0M536.6 116.0h0M553.0 116.4h0M560.6 117.0h0M529.7 117.2h0M563.9 117.9h0M561.1 118.1h0M532.0 118.7h0M529.4 119.0h0M551.3 119.5h0M549.0 120.0h0M515.2 120.4h0M529.6 120.8h0M516.6 121.4h0M544.1 121.9h0M534.0 122.1h0M506.1 122.9h0M534.7 123.2h0M528.4 123.4h0M556.2 124.1h0M548.8 124.3h0M561.4 125.1h0M559.3 125.6h0M559.4 125.8h0M523.0 126.1h0M553.3 127.0h0M532.8 127.3h0M523.4 127.9h0M547.0 128.1h0M555.8 128.9h0M569.5 129.1h0M535.4 129.7h0M564.9 130.3h0M562.4 130.8h0M533.9 131.2h0M571.4 131.6h0M643.6 101.2h0M624.5 101.6h0M619.5 101.9h0M616.7 102.1h0M628.4 102.5h0M594.4 102.9h0M610.9 103.0h0M622.8 103.6h0M587.4 103.7h0M580.4 104.2h0M585.6 104.6h0M636.7 104.8h0M643.2 105.3h0M605.4 105.8h0M601.2 106.0h0M608.4 106.5h0M586.0 107.0h0M606.6 107.2h0M612.8 107.4h0M655.9 107.8h0M650.6 108.4h0M578.5 108.8h0M620.4 109.1h0M653.9 109.3h0M652.4 109.7h0M594.7 110.1h0M610.8 110.6h0M628.2 111.1h0M602.2 111.5h0M639.6 111.8h0M622.6 112.2h0M590.8 112.6h0M612.5 112.8h0M628.1 113.3h0M649.1 113.9h0M596.4 114.4h0M591.7 114.7h0M597.2 115.1h0M655.7 115.7h0M598.4 116.0h0M595.5 116.4h0M618.4 116.9h0M609.1 117.1h0M632.4 117.6h0M595.1 118.3h0M589.9 118.7h0M655.9 119.2h0M641.6 119.3h0M633.2 120.2h0M650.8 120.3h0M640.9 120.9h0M606.3 121.6h0M634.8 121.8h0M622.9 122.5h0M601.1 122.6h0M633.6 123.1h0M654.2 123.8h0M634.0 124.0h0M609.9 124.6h0M647.5 125.0h0M609.3 125.6h0M605.6 126.3h0M644.5 126.6h0M642.2 127.3h0M582.0 127.6h0M597.2 128.0h0M593.7 128.7h0M648.3 128.9h0M629.4 129.6h0M594.7 130.0h0M608.7 130.5h0M611.7 131.4h0M619.1 131.6h0M704.5 101.0h0M680.3 101.3h0M698.8 101.8h0M725.3 102.2h0M686.6 102.3h0M661.2 102.9h0M683.7 103.1h0M712.0 103.3h0M669.2 103.9h0M686.7 104.3h0M714.1 104.7h0M671.4 104.7h0M702.5 105.4h0M673.6 105.7h0M677.3 105.9h0M664.8 106.4h0M702.2 106.8h0M692.2 107.0h0M697.4 107.6h0M672.5 107.7h0M731.1 108.1h0M721.8 108.7h0M734.0 108.9h0M689.4 109.2h0M724.6 109.8h0M729.7 110.2h0M676.6 110.6h0M717.9 111.0h0M676.2 111.2h0M675.4 111.5h0M678.8 112.0h0M708.4 112.3h0M678.3 112.7h0M687.7 113.4h0M657.4 113.5h0M715.2 113.9h0M690.3 114.4h0M666.9 114.8h0M688.3 115.1h0M664.9 115.6h0M725.1 116.2h0M673.6 116.5h0M697.3 117.1h0M712.1 117.3h0M687.2 117.8h0M716.4 118.4h0M697.8 118.7h0M658.9 119.2h0M709.9 119.6h0M698.9 120.3h0M733.7 120.8h0M710.4 120.8h0M722.4 121.4h0M681.4 121.9h0M673.3 122.2h0M733.5 122.9h0M728.2 123.5h0M689.0 123.9h0M662.3 124.3h0M718.1 124.7h0M712.6 125.3h0M663.7 125.5h0M669.5 126.2h0M723.3 126.8h0M664.6 127.4h0M719.4 127.8h0M677.4 128.0h0M672.0 128.9h0M718.4 129.1h0M707.8 129.8h0M680.8 130.1h0M725.3 130.6h0M684.5 131.3h0M665.7 131.6h0M753.2 101.1h0M774.6 101.8h0M787.4 102.3h0M761.1 102.6h0M762.2 103.4h0M771.0 103.7h0M739.7 104.2h0M805.4 105.0h0M811.4 105.5h0M766.2 106.3h0M757.7 106.7h0M801.5 107.1h0M792.0 108.1h0M753.5 108.4h0M755.7 109.3h0M804.1 109.5h0M768.5 110.0h0M758.9 110.7h0M761.2 111.2h0M784.8 112.3h0M765.4 113.0h0M765.4 113.6h0M778.1 113.9h0M789.8 115.0h0M739.0 115.4h0M792.3 115.9h0M762.3 116.9h0M805.7 117.4h0M785.0 118.2h0M759.8 118.9h0M764.8 119.4h0M769.0 120.5h0M775.2 120.6h0M810.9 121.7h0M780.4 122.5h0M777.0 123.4h0M742.5 123.6h0M781.6 124.8h0M804.2 125.5h0M771.5 126.3h0M754.7 127.2h0M756.8 127.3h0M788.0 128.0h0M764.6 129.5h0M811.4 129.9h0M753.6 130.9h0M800.0 131.6h0M526.6 132.4h0M571.4 132.8h0M552.5 133.0h0M561.5 133.7h0M535.0 134.4h0M525.4 134.5h0M544.8 135.0h0M549.0 135.6h0M535.4 136.2h0M546.6 136.8h0M553.3 137.3h0M572.1 137.8h0M538.1 138.3h0M512.6 138.6h0M569.1 139.1h0M542.5 139.8h0M525.5 140.3h0M506.3 141.1h0M527.6 141.3h0M520.8 142.2h0M522.3 142.5h0M518.9 143.1h0M547.7 143.9h0M575.1 144.1h0M545.7 145.0h0M527.3 145.6h0M554.9 146.0h0M510.5 146.5h0M556.4 147.5h0M560.0 147.7h0M524.9 148.6h0M504.6 149.0h0M504.6 149.4h0M551.2 150.0h0M516.7 151.0h0M506.0 151.6h0M556.8 152.5h0M569.9 152.9h0M521.1 153.6h0M513.2 154.4h0M513.1 154.9h0M517.6 155.2h0M539.3 156.1h0M504.6 156.9h0M568.0 157.2h0M544.4 157.9h0M561.7 158.5h0M552.4 159.5h0M526.2 160.4h0M552.3 161.0h0M575.4 161.8h0M517.7 162.5h0M544.7 162.6h0M508.1 163.7h0M605.5 132.4h0M587.1 133.1h0M625.0 134.2h0M647.0 134.3h0M647.9 135.7h0M608.8 136.5h0M603.0 137.1h0M588.3 137.6h0M588.3 138.3h0M642.0 139.5h0M594.7 140.0h0M624.9 141.1h0M581.7 141.8h0M610.9 142.9h0M604.8 143.3h0M614.0 144.2h0M643.1 145.2h0M619.1 146.0h0M637.1 146.9h0M589.1 147.8h0M641.7 149.2h0M603.3 149.9h0M650.1 151.4h0M599.0 151.9h0M640.5 152.8h0M635.7 154.4h0M628.3 154.6h0M629.0 156.4h0M598.1 157.4h0M644.6 158.0h0M642.1 159.1h0M628.1 160.1h0M610.1 161.0h0M577.7 162.3h0M653.4 163.8h0M728.5 132.5h0M718.1 133.4h0M728.2 133.6h0M711.2 134.7h0M718.3 134.9h0M732.2 135.7h0M724.7 136.6h0M707.3 137.4h0M700.0 138.2h0M732.7 139.2h0M710.2 139.9h0M698.1 140.6h0M661.9 141.4h0M691.0 141.8h0M667.2 142.6h0M704.8 143.5h0M674.9 144.4h0M710.4 145.6h0M676.2 146.6h0M663.8 147.0h0M659.1 147.7h0M730.3 149.1h0M721.3 149.8h0M705.1 150.6h0M721.9 151.6h0M666.6 152.2h0M724.1 153.9h0M669.7 154.9h0M687.3 155.3h0M704.4 156.3h0M714.5 157.7h0M722.0 158.3h0M725.8 159.3h0M720.4 160.8h0M716.5 161.7h0M666.5 162.2h0M696.9 163.5h0M747.6 132.4h0M758.8 132.7h0M754.8 133.3h0M784.9 133.7h0M747.9 134.5h0M742.8 135.1h0M780.6 135.3h0M802.4 135.8h0M802.3 136.2h0M805.0 136.9h0M743.0 137.4h0M750.8 138.1h0M783.9 139.0h0M804.1 139.3h0M771.3 139.7h0M804.3 140.6h0M786.8 141.3h0M756.8 141.4h0M809.2 142.0h0M763.3 142.6h0M762.4 143.2h0M782.1 143.9h0M745.9 144.5h0M762.3 145.4h0M775.8 145.7h0M758.1 146.9h0M801.7 147.0h0M778.4 148.1h0M753.9 148.4h0M789.4 149.1h0M801.3 149.7h0M806.2 150.9h0M774.2 151.4h0M794.4 152.0h0M796.2 152.3h0M747.0 153.3h0M786.6 153.9h0M794.5 155.0h0M800.3 155.3h0M763.7 156.1h0M804.6 156.9h0M811.9 157.3h0M809.0 158.3h0M768.5 159.1h0M768.1 159.8h0M742.1 160.5h0M761.6 161.3h0M781.4 162.2h0M807.9 162.8h0M810.1 163.9h0M526.2 164.8h0M528.4 165.3h0M545.8 167.0h0M521.7 168.2h0M552.6 168.4h0M566.8 170.3h0M576.8 171.5h0M556.8 172.5h0M565.6 174.2h0M530.9 175.4h0M565.9 175.9h0M562.0 177.5h0M573.5 178.2h0M519.8 179.6h0M556.6 181.9h0M525.3 182.6h0M573.1 183.8h0M540.7 185.3h0M517.4 186.1h0M556.7 188.2h0M510.6 189.1h0M507.4 190.3h0M540.3 192.2h0M560.8 194.1h0M526.1 194.9h0M634.0 164.6h0M605.7 166.0h0M623.1 167.3h0M655.7 167.8h0M605.6 170.1h0M644.6 171.1h0M609.8 172.2h0M638.0 173.0h0M635.1 175.3h0M597.5 176.1h0M591.7 178.2h0M592.5 179.1h0M591.2 181.2h0M592.9 182.2h0M628.6 184.7h0M609.4 185.8h0M650.4 187.8h0M634.3 188.0h0M620.2 190.3h0M577.8 191.8h0M621.0 193.8h0M581.7 195.5h0M667.6 164.3h0M714.5 164.7h0M707.5 165.4h0M728.3 166.1h0M676.6 167.1h0M685.7 167.7h0M681.3 168.3h0M727.1 169.0h0M722.2 170.2h0M735.1 170.6h0M706.9 171.4h0M675.2 172.4h0M728.8 172.9h0M670.1 173.3h0M658.6 174.6h0M702.7 175.3h0M707.3 175.9h0M686.2 176.6h0M667.9 177.7h0M657.8 178.0h0M723.1 179.1h0M707.9 179.8h0M671.5 180.6h0M711.9 181.3h0M705.8 182.7h0M669.4 183.5h0M675.1 184.2h0M733.1 184.9h0M721.5 186.2h0M686.6 186.7h0M679.1 187.5h0M693.5 188.6h0M695.3 189.1h0M696.9 190.5h0M719.7 190.9h0M665.4 191.8h0M713.7 192.6h0M724.2 193.4h0M675.4 194.7h0M737.0 195.3h0M775.9 164.6h0M739.9 165.2h0M758.4 166.2h0M809.7 166.5h0M809.9 167.6h0M743.2 168.6h0M782.9 169.0h0M751.9 169.6h0M779.4 170.6h0M812.0 171.5h0M782.7 172.8h0M783.7 173.4h0M782.5 174.0h0M776.3 175.3h0M812.9 176.0h0M739.9 177.1h0M794.6 177.4h0M768.7 178.6h0M763.6 179.3h0M806.1 180.4h0M780.0 181.2h0M752.9 182.2h0M763.1 183.2h0M752.2 184.5h0M771.5 185.2h0M809.9 185.9h0M748.3 187.1h0M761.6 188.3h0M762.4 189.0h0M761.1 189.9h0M742.7 191.3h0M759.1 192.6h0M757.2 193.2h0M746.3 194.8h0M740.1 195.3h0M551.4 196.0h0M627.8 197.0h0M595.9 197.2h0M651.0 198.0h0M510.5 198.4h0M653.5 199.0h0M607.5 199.6h0M572.0 200.0h0M595.9 200.8h0M610.1 201.3h0M504.6 201.5h0M609.4 202.1h0M584.7 202.9h0M646.0 203.2h0M561.7 204.0h0M585.5 204.6h0M593.6 205.1h0M612.6 205.8h0M540.8 206.4h0M585.6 207.0h0M511.4 207.4h0M505.8 208.0h0M615.2 208.8h0M616.3 209.1h0M618.9 209.6h0M525.9 210.3h0M535.0 211.2h0M586.7 211.3h0M617.3 211.9h0M508.7 212.8h0M560.3 213.5h0M611.3 214.1h0M643.4 214.3h0M640.1 215.3h0M530.2 215.4h0M643.4 216.5h0M623.9 217.2h0M565.9 217.7h0M539.6 218.0h0M588.4 218.6h0M616.8 219.4h0M540.7 220.1h0M545.9 220.5h0M563.3 221.5h0M649.2 221.8h0M539.0 222.6h0M583.2 223.1h0M566.2 224.0h0M568.1 224.2h0M653.1 224.8h0M510.7 225.5h0M574.2 226.3h0M557.1 226.7h0M656.6 227.9h0M696.9 196.1h0M780.3 197.0h0M717.3 197.4h0M783.5 198.6h0M687.6 198.8h0M723.2 199.6h0M728.2 200.3h0M789.4 200.9h0M669.8 201.9h0M779.6 202.2h0M767.4 202.9h0M678.9 203.6h0M664.1 204.5h0M781.1 205.0h0M765.2 206.1h0M763.3 206.8h0M788.7 207.1h0M704.3 208.1h0M811.7 208.7h0M703.9 209.5h0M726.2 210.2h0M778.9 211.2h0M763.3 211.8h0M804.9 212.2h0M780.7 213.4h0M797.4 213.7h0M705.0 214.3h0M716.8 215.4h0M730.0 215.7h0M662.9 216.8h0M728.3 217.9h0M799.3 218.4h0M742.4 219.2h0M672.1 220.1h0M708.4 220.7h0M677.2 221.3h0M746.2 222.2h0M762.5 223.1h0M720.2 223.6h0M724.9 224.2h0M784.0 225.6h0M746.2 225.7h0M769.8 226.7h0M741.4 227.9h0M509.9 228.5h0M514.2 229.2h0M639.7 229.6h0M553.5 230.9h0M574.5 231.7h0M648.4 232.1h0M649.4 232.9h0M573.1 233.4h0M642.5 234.2h0M533.5 235.6h0M621.3 235.9h0M654.1 236.6h0M511.8 237.4h0M556.8 238.5h0M549.6 239.3h0M521.8 239.8h0M619.4 240.9h0M613.3 241.6h0M532.8 242.5h0M545.9 243.0h0M625.0 244.2h0M608.2 244.5h0M604.2 245.4h0M536.9 246.6h0M559.8 247.2h0M609.5 248.4h0M604.3 248.9h0M550.6 249.5h0M581.1 250.9h0M619.1 251.2h0M697.6 228.1h0M713.4 228.9h0M690.6 229.8h0M691.1 230.5h0M692.9 231.1h0M686.5 231.4h0M695.9 232.2h0M701.0 232.7h0M770.1 233.5h0M775.2 234.1h0M743.3 235.2h0M727.9 235.8h0M760.8 236.6h0M660.2 237.0h0M726.8 237.9h0M779.4 238.3h0M782.0 239.2h0M741.7 239.8h0M723.1 240.7h0M687.9 241.5h0M661.8 241.9h0M693.0 242.4h0M716.8 243.6h0M682.1 244.5h0M796.6 245.1h0M712.0 245.8h0M686.8 246.4h0M802.0 247.0h0M758.1 247.5h0M810.9 248.2h0M798.6 249.1h0M712.1 250.2h0M804.4 250.6h0M730.8 251.6h0" stroke="#b3b3b3" stroke-width="4.0" stroke-linecap="round" fill="none"/>
<path d="M523.4 62.5h0M801.9 63.0h0M757.7 63.6h0M655.2 63.8h0M668.9 64.3h0M603.1 64.6h0M721.4 64.9h0M740.4 65.2h0M681.1 65.5h0M800.7 65.7h0M575.5 66.0h0M589.1 66.2h0M729.3 66.4h0M611.7 66.8h0M760.2 66.9h0M771.2 67.2h0M523.6 67.3h0M509.6 67.5h0M637.2 67.6h0M706.5 67.8h0M550.8 68.8h0M513.3 68.9h0M534.9 70.2h0M539.8 70.5h0M575.1 71.5h0M548.3 72.0h0M517.7 72.6h0M505.0 73.1h0M555.3 73.3h0M569.7 74.1h0M573.1 74.6h0M517.2 75.1h0M568.1 75.3h0M524.2 75.6h0M552.5 76.2h0M548.8 76.6h0M524.5 76.8h0M574.4 77.2h0M515.3 77.7h0M566.3 78.1h0M571.1 78.4h0M521.3 78.7h0M516.7 79.1h0M575.4 79.3h0M552.8 79.8h0M522.9 80.1h0M521.1 80.4h0M552.7 80.5h0M552.8 80.8h0M556.6 81.1h0M518.0 81.7h0M567.3 81.8h0M563.2 82.1h0M571.5 82.6h0M507.0 82.9h0M549.4 83.1h0M512.6 83.5h0M515.3 83.7h0M508.2 83.9h0M552.7 84.3h0M563.1 84.8h0M555.1 85.0h0M509.7 85.4h0M521.4 85.7h0M523.6 85.9h0M534.6 86.2h0M559.2 86.6h0M566.9 86.7h0M511.5 87.1h0M516.2 87.4h0M511.1 87.6h0M576.3 88.1h0M544.7 88.4h0M556.2 88.5h0M560.6 89.0h0M525.5 89.4h0M550.3 89.7h0M557.5 89.9h0M504.2 90.1h0M523.8 90.6h0M532.4 90.8h0M506.4 91.1h0M509.5 91.3h0M531.1 91.8h0M557.0 92.0h0M518.7 92.2h0M574.7 92.6h0M525.4 92.9h0M523.5 93.3h0M560.7 93.6h0M576.6 93.8h0M569.7 94.2h0M518.3 94.4h0M547.4 94.8h0M507.6 95.0h0M542.1 95.3h0M523.5 95.8h0M531.3 95.9h0M544.3 96.4h0M552.8 96.5h0M508.4 97.0h0M507.3 97.2h0M526.2 97.4h0M514.1 97.8h0M512.5 98.1h0M561.5 98.4h0M535.1 98.6h0M548.6 98.8h0M509.1 99.2h0M537.9 99.6h0M507.2 99.9h0M612.4 68.1h0M623.0 69.1h0M614.4 69.3h0M626.1 70.2h0M625.6 70.4h0M626.6 71.3h0M586.1 71.6h0M641.3 72.1h0M623.7 72.6h0M596.5 72.8h0M630.2 73.4h0M649.9 73.6h0M618.1 74.1h0M583.4 74.5h0M626.9 74.7h0M635.5 74.9h0M591.8 75.5h0M578.4 75.8h0M615.6 76.0h0M637.3 76.4h0M599.2 76.6h0M606.4 77.1h0M590.0 77.1h0M615.3 77.4h0M589.5 77.8h0M610.9 78.0h0M601.5 78.4h0M610.9 78.7h0M630.8 78.8h0M604.0 79.2h0M650.0 79.3h0M624.9 79.6h0M586.9 80.0h0M645.1 80.1h0M598.9 80.3h0M652.8 80.6h0M608.1 80.8h0M602.4 81.0h0M630.7 81.4h0M651.1 81.7h0M651.9 81.8h0M577.0 82.1h0M643.5 82.3h0M650.5 82.7h0M601.9 82.9h0M600.5 83.1h0M595.3 83.3h0M597.7 83.4h0M616.1 83.9h0M588.8 84.0h0M623.3 84.3h0M623.6 84.6h0M595.6 84.7h0M579.9 85.0h0M582.8 85.1h0M652.4 85.5h0M655.8 85.7h0M594.4 85.9h0M582.9 86.1h0M590.8 86.4h0M611.0 86.7h0M627.2 87.0h0M625.1 87.3h0M651.2 87.5h0M626.7 87.6h0M645.5 87.8h0M597.2 88.2h0M609.4 88.4h0M617.3 88.6h0M589.4 88.9h0M633.6 89.1h0M594.0 89.4h0M637.1 89.4h0M602.0 89.8h0M644.5 90.0h0M602.2 90.3h0M650.1 90.6h0M628.4 90.8h0M656.1 90.9h0M613.2 91.1h0M625.8 91.5h0M615.5 91.7h0M607.3 91.9h0M598.9 92.0h0M604.0 92.3h0M628.6 92.5h0M645.4 92.9h0M606.0 93.1h0M593.2 93.3h0M631.3 93.6h0M578.8 93.9h0M633.5 94.0h0M641.0 94.2h0M653.8 94.5h0M586.0 94.7h0M644.3 95.0h0M599.2 95.3h0M586.2 95.5h0M654.9 95.7h0M579.3 95.9h0M579.8 96.0h0M629.6 96.4h0M641.8 96.5h0M635.9 96.8h0M581.3 97.0h0M643.1 97.2h0M587.2 97.6h0M598.9 97.8h0M579.2 98.0h0M655.0 98.2h0M628.2 98.5h0M608.6 98.8h0M655.2 98.9h0M609.4 99.2h0M624.7 99.3h0M578.8 99.7h0M637.0 99.8h0M705.1 68.0h0M736.3 69.1h0M675.0 69.5h0M726.8 69.8h0M698.7 70.7h0M705.2 71.1h0M687.1 71.6h0M662.8 71.8h0M677.1 72.3h0M702.6 72.6h0M672.9 73.0h0M695.2 73.5h0M659.1 73.6h0M674.1 74.1h0M660.2 74.3h0M690.2 74.6h0M660.8 75.1h0M736.9 75.2h0M725.6 75.6h0M685.4 76.0h0M661.1 76.3h0M727.5 76.4h0M686.2 76.9h0M697.7 77.1h0M711.8 77.3h0M729.0 77.6h0M728.0 77.8h0M735.4 78.1h0M661.5 78.5h0M663.7 78.6h0M734.4 79.0h0M669.5 79.2h0M681.4 79.3h0M693.5 79.5h0M709.0 79.8h0M725.4 80.1h0M664.5 80.3h0M695.0 80.5h0M709.9 80.7h0M732.7 81.1h0M687.0 81.3h0M706.4 81.6h0M702.5 81.7h0M657.4 81.9h0M732.0 82.2h0M724.5 82.5h0M722.8 82.6h0M708.3 82.7h0M735.5 82.9h0M722.3 83.3h0M673.1 83.5h0M684.5 83.7h0M657.2 84.0h0M703.2 84.2h0M705.5 84.3h0M662.5 84.6h0M735.7 84.9h0M717.1 85.1h0M726.9 85.2h0M709.7 85.5h0M722.4 85.8h0M664.5 85.9h0M684.4 86.3h0M735.0 86.5h0M722.7 86.7h0M727.7 86.9h0M731.7 87.1h0M688.6 87.4h0M659.6 87.6h0M698.7 87.8h0M660.6 88.1h0M661.6 88.1h0M709.6 88.4h0M726.2 88.7h0M672.7 89.0h0M689.1 89.1h0M669.2 89.4h0M674.6 89.5h0M719.6 89.7h0M704.9 90.1h0M676.3 90.3h0M699.2 90.4h0M693.0 90.7h0M719.5 90.9h0M685.5 91.2h0M700.0 91.4h0M689.9 91.5h0M687.1 91.8h0M676.4 92.0h0M677.6 92.3h0M713.9 92.3h0M684.7 92.6h0M735.9 92.8h0M662.6 93.1h0M707.2 93.2h0M689.8 93.5h0M672.2 93.7h0M712.7 94.0h0M661.2 94.1h0M733.4 94.4h0M661.4 94.6h0M690.2 94.9h0M684.5 95.0h0M698.9 95.3h0M728.6 95.4h0M699.1 95.8h0M670.0 96.0h0M723.3 96.3h0M678.6 96.5h0M693.2 96.7h0M677.5 96.7h0M723.6 97.0h0M711.9 97.3h0M701.9 97.4h0M658.5 97.6h0M676.0 98.0h0M718.9 98.2h0M687.1 98.3h0M735.3 98.6h0M682.0 98.8h0M707.4 99.1h0M703.6 99.2h0M725.1 99.4h0M699.3 99.5h0M658.2 99.8h0M797.5 68.6h0M768.2 69.4h0M776.3 70.0h0M785.0 70.1h0M739.1 70.8h0M763.4 71.6h0M768.5 72.0h0M770.6 72.3h0M810.1 72.9h0M757.3 73.1h0M755.1 73.6h0M747.5 74.3h0M780.8 74.4h0M776.1 74.8h0M799.1 75.4h0M754.9 75.6h0M759.3 76.1h0M753.3 76.3h0M764.4 76.8h0M758.7 77.0h0M792.5 77.5h0M785.9 77.6h0M741.6 77.9h0M777.0 78.2h0M785.0 78.5h0M794.9 79.0h0M788.5 79.3h0M754.7 79.5h0M783.5 79.8h0M770.0 80.1h0M737.5 80.2h0M752.7 80.5h0M753.4 80.8h0M755.6 81.1h0M801.9 81.4h0M776.1 81.5h0M772.2 82.0h0M808.8 82.1h0M744.6 82.6h0M778.7 82.8h0M778.9 83.0h0M812.9 83.3h0M787.1 83.4h0M772.6 83.9h0M791.4 84.1h0M784.3 84.4h0M783.8 84.5h0M768.3 85.0h0M791.7 85.2h0M745.7 85.4h0M798.4 85.6h0M779.6 85.8h0M747.6 86.3h0M752.7 86.5h0M802.9 86.8h0M766.1 87.1h0M744.9 87.2h0M804.8 87.6h0M764.2 87.7h0M756.9 88.0h0M795.3 88.4h0M782.5 88.6h0M784.4 88.9h0M780.8 89.1h0M803.4 89.3h0M746.6 89.6h0M755.2 89.8h0M744.3 90.1h0M792.5 90.6h0M808.4 90.8h0M743.7 91.0h0M738.6 91.3h0M785.5 91.4h0M786.2 91.8h0M810.7 92.1h0M784.7 92.3h0M778.2 92.7h0M764.6 92.9h0M780.9 93.0h0M772.3 93.4h0M766.2 93.7h0M793.2 93.8h0M781.3 94.0h0M777.6 94.3h0M784.5 94.6h0M790.9 94.8h0M804.5 95.1h0M767.0 95.4h0M757.6 95.8h0M790.4 96.0h0M747.9 96.2h0M804.4 96.6h0M740.0 96.8h0M813.0 96.9h0M776.1 97.3h0M774.5 97.4h0M809.6 97.7h0M751.5 97.9h0M801.9 98.3h0M811.1 98.5h0M782.2 98.7h0M783.5 98.9h0M740.8 99.2h0M756.1 99.5h0M749.9 99.8h0M623.3 14.1h0M503.6 29.9h0M509.3 36.8h0M527.8 25.4h0M532.0 34.1h0M545.6 31.1h0M559.1 30.9h0M567.5 32.6h0M571.7 31.6h0M586.3 31.9h0M596.2 32.8h0M602.3 40.0h0M527.0 51.4h0M554.2 48.9h0M582.3 51.9h0M619.9 50.6h0M643.1 45.4h0M649.5 47.9h0M666.8 43.5h0M686.3 46.4h0M662.8 54.8h0M667.0 52.8h0M676.2 51.4h0M678.9 54.6h0M682.6 55.8h0M674.0 56.8h0M665.3 62.0h0M667.8 66.7h0M523.8 61.0h0M526.5 64.2h0M559.1 61.0h0M568.5 64.2h0M592.0 62.5h0M607.3 65.2h0M621.4 61.0h0M624.6 65.4h0M687.5 65.4h0M702.8 40.5h0M704.6 42.7h0M714.9 27.1h0M740.8 26.9h0M756.8 20.5h0M758.7 20.5h0M771.0 31.6h0M795.3 30.0h0M761.1 54.3h0M766.6 60.2h0M768.6 60.2h0M704.0 59.9h0M714.1 58.5h0M662.9 54.9h0M676.4 51.6h0M664.9 62.0h0M678.3 62.0h0" stroke="#99cd6e" stroke-width="4.0" stroke-linecap="round" fill="none"/>
<rect x="502" y="275.5" width="313.5" height="10" fill="#a72626"/>
<path d="M628.5 277.4h0M641.6 285.9h0M573.2 276.9h0M797.0 284.8h0M764.9 276.8h0M792.9 277.0h0M812.0 276.3h0M566.9 285.2h0M693.0 284.4h0M647.0 274.8h0M575.0 277.4h0M515.2 275.6h0M726.1 276.7h0M696.3 285.6h0M656.9 283.6h0M643.5 277.0h0M621.8 285.2h0M530.2 276.4h0M558.1 276.6h0M546.1 277.3h0M552.7 277.4h0M522.5 277.5h0M711.2 284.5h0M635.3 276.0h0M716.1 277.3h0M740.8 284.5h0M718.2 277.4h0M800.8 283.9h0M670.4 284.4h0M617.5 274.7h0M629.1 283.7h0M812.5 283.5h0M607.0 277.4h0M535.1 275.9h0M556.3 284.3h0M579.8 276.8h0M754.0 277.5h0M742.7 283.6h0M621.2 276.8h0M568.0 276.9h0M521.2 276.6h0M592.1 277.2h0M721.4 283.6h0M641.9 284.8h0M633.4 277.3h0M667.0 283.6h0M755.0 283.9h0M545.9 284.1h0M763.4 277.2h0M670.4 277.1h0M693.1 283.7h0M689.7 277.2h0M550.7 277.4h0M737.4 276.4h0M709.0 283.7h0M720.1 285.5h0M753.2 275.2h0M630.1 277.4h0M619.6 284.4h0M689.2 276.1h0M760.2 276.3h0M609.2 284.2h0M616.3 277.1h0M648.5 276.6h0M775.1 274.7h0M510.5 277.2h0M752.4 276.7h0M572.4 277.1h0M551.5 276.8h0M670.9 287.3h0M572.4 283.7h0M802.8 277.0h0M740.9 284.7h0M557.7 284.2h0M774.8 277.5h0M777.1 276.5h0M642.9 276.6h0M665.7 284.3h0M689.6 277.3h0M752.3 285.0h0M600.2 286.4h0M644.6 276.7h0M704.2 283.8h0M789.2 275.7h0M633.7 276.6h0M813.2 284.1h0M719.8 284.0h0M714.3 284.4h0M603.5 277.3h0M606.5 277.2h0M772.3 283.6h0M586.7 277.4h0M745.0 277.3h0M713.2 276.4h0M631.8 283.7h0M665.4 276.1h0M802.5 283.7h0M782.0 285.1h0M644.3 284.5h0M682.4 276.3h0M755.0 277.2h0M532.3 276.7h0M561.4 283.5h0M773.9 277.3h0M566.9 276.1h0M506.4 277.4h0M674.9 285.7h0M607.1 283.5h0M659.2 284.3h0M525.6 277.2h0M786.1 276.6h0M645.3 277.2h0M598.4 284.6h0M634.8 276.8h0M531.1 284.2h0M612.7 284.1h0M544.2 275.1h0M680.0 283.7h0M648.5 275.5h0M681.6 277.3h0M657.3 277.1h0M592.0 277.0h0M536.5 284.6h0M561.5 277.2h0M603.3 284.1h0M682.8 275.6h0M731.8 275.8h0M529.1 276.6h0M509.1 277.5h0M568.0 284.8h0M714.6 277.4h0M536.3 276.6h0M722.3 286.7h0M584.1 274.5h0M727.8 276.6h0M789.8 284.2h0M652.6 276.6h0M518.1 276.9h0M506.6 283.5h0M717.1 276.9h0M509.9 276.7h0M677.8 277.5h0M575.8 283.7h0M677.4 276.3h0M558.7 277.4h0M679.8 276.5h0M505.2 276.7h0M608.7 284.5h0M737.8 274.6h0M694.2 284.0h0M764.2 274.9h0M550.6 276.6h0M639.5 284.3h0M724.0 284.1h0M694.0 277.3h0M786.8 286.1h0M562.8 285.5h0M698.9 277.1h0M780.9 275.6h0M732.6 284.1h0M518.8 283.9h0M671.4 277.5h0M533.3 287.1h0M631.6 286.0h0M536.0 276.7h0M598.7 275.9h0M652.0 285.6h0M554.2 276.9h0M661.3 284.2h0M756.0 275.6h0M545.1 277.4h0M529.9 283.8h0M551.5 276.1h0M573.3 276.3h0M604.0 277.3h0M569.0 276.4h0M642.5 276.9h0M787.7 275.8h0M740.7 285.4h0M742.0 276.7h0M667.3 285.3h0M772.5 276.9h0M695.5 277.0h0M743.3 284.0h0M795.9 283.6h0M635.0 277.5h0M551.5 276.6h0M598.2 277.2h0M656.5 275.9h0M593.0 277.4h0M598.7 277.3h0M788.4 274.9h0M625.5 284.6h0M545.8 286.9h0M805.5 277.3h0M592.2 285.2h0M617.4 284.1h0M696.7 283.8h0M762.7 277.5h0M581.0 277.0h0M645.8 284.0h0M756.0 275.0h0M770.4 276.6h0M806.3 277.1h0M524.3 284.6h0M697.2 276.9h0M593.6 284.1h0M805.7 276.8h0M534.6 275.5h0M717.2 276.3h0M629.8 283.7h0M652.4 284.3h0M611.6 275.0h0M707.9 277.2h0M803.2 284.2h0M707.9 276.5h0M576.4 277.3h0M768.0 276.6h0M557.2 274.2h0M509.7 275.2h0M586.1 284.3h0M739.8 277.1h0M550.8 275.7h0M762.1 277.4h0M524.2 284.6h0M761.0 283.7h0M765.6 283.7h0M718.1 284.0h0M704.0 276.6h0M682.9 286.6h0M653.1 275.4h0M614.5 284.9h0M549.7 276.9h0M528.4 284.2h0M788.5 277.3h0M616.3 276.0h0M527.4 283.8h0M668.3 276.7h0M580.0 284.3h0M575.4 283.7h0M511.9 286.6h0M795.0 276.2h0M605.0 286.3h0M670.6 275.5h0M692.4 284.9h0M747.6 276.6h0M644.2 275.8h0M546.6 276.5h0M543.2 284.5h0M685.5 277.2h0M648.4 283.7h0M717.9 285.4h0M678.6 283.6h0M614.6 285.5h0M700.9 277.0h0M674.6 276.8h0M714.6 274.1h0M536.5 284.0h0M650.5 277.2h0M751.1 284.7h0M511.1 274.3h0M645.8 284.1h0M740.6 275.7h0M654.2 275.5h0M689.2 284.0h0M687.6 276.9h0M629.6 277.2h0M537.4 283.8h0M773.4 284.4h0M766.2 285.2h0M659.9 275.6h0M573.0 273.8h0M564.4 277.4h0M696.5 283.9h0M646.7 277.3h0M741.5 273.6h0M787.5 276.7h0M705.2 277.1h0M537.6 276.8h0M515.8 276.9h0M543.8 275.1h0M762.3 283.7h0M770.9 276.9h0M692.0 283.5h0M614.0 276.3h0M774.7 273.7h0M753.2 285.2h0M683.5 284.1h0M580.6 285.6h0M655.6 276.9h0M562.0 283.6h0M668.0 276.3h0M798.9 274.5h0M742.6 283.8h0M722.1 275.5h0M652.9 285.7h0M802.0 277.1h0M797.9 276.1h0M702.2 285.7h0M725.7 276.4h0M543.5 277.2h0M628.8 275.4h0M504.7 276.7h0M739.3 283.9h0M673.6 284.4h0M797.9 283.7h0M623.0 277.3h0M750.6 276.2h0M775.6 286.6h0M742.3 277.4h0M628.8 276.5h0M714.6 283.9h0M510.6 284.1h0M575.9 276.7h0M673.9 275.2h0M518.4 274.0h0M714.3 284.5h0M687.0 285.0h0M533.1 277.1h0M714.9 276.3h0M705.5 284.4h0M656.0 276.2h0M780.5 283.8h0M809.5 277.5h0M595.8 277.3h0M599.7 283.9h0M585.7 283.5h0M615.8 283.5h0M745.3 277.1h0M575.6 276.5h0M765.6 277.2h0M616.7 276.1h0M531.3 277.2h0M809.3 284.4h0M559.5 284.7h0M619.8 275.8h0M735.4 284.5h0M768.4 284.0h0M522.6 283.8h0M746.5 275.4h0M616.4 276.4h0M645.6 276.5h0M745.9 276.7h0M568.9 284.0h0M663.9 286.6h0M547.4 276.7h0M763.7 276.0h0M692.7 275.6h0M589.6 283.6h0M789.9 276.9h0M785.4 277.0h0M504.0 283.8h0M739.3 274.9h0M523.3 283.8h0M520.0 285.6h0M521.1 284.2h0M694.2 276.3h0M633.1 275.9h0M780.7 283.6h0M573.2 283.9h0M721.4 276.3h0M621.1 277.0h0M656.2 276.9h0M741.5 277.2h0M764.5 284.4h0M801.0 283.5h0M558.4 276.7h0M705.0 283.5h0M685.9 277.4h0M679.1 284.1h0M678.8 276.7h0M514.1 276.5h0M693.7 276.0h0M593.4 285.0h0M515.2 275.4h0M576.6 277.2h0M610.4 276.6h0M804.4 284.6h0M599.3 283.9h0M627.4 284.9h0M672.1 277.2h0M640.1 277.4h0M531.5 277.2h0M525.3 283.8h0M572.2 284.0h0M801.5 276.5h0M508.0 277.3h0M797.6 276.5h0M545.9 277.0h0M620.6 284.6h0M562.3 276.6h0M543.0 276.5h0M777.7 275.9h0M711.1 284.0h0M639.1 275.1h0M769.8 276.9h0M621.2 284.2h0M740.7 284.0h0M552.1 284.7h0M714.8 285.0h0M778.6 285.6h0M755.9 276.9h0M717.8 275.4h0M506.6 284.0h0M605.0 283.8h0M575.4 284.1h0M778.0 284.7h0M769.2 277.3h0M569.7 283.6h0M567.0 283.9h0M515.7 275.7h0M561.3 276.4h0M610.2 285.9h0M642.4 276.4h0M650.9 283.8h0M770.5 277.4h0M704.2 276.6h0M667.9 284.3h0M676.6 284.1h0M527.5 283.7h0M767.9 276.9h0M515.8 285.0h0M680.8 284.8h0M507.4 277.5h0M748.8 275.9h0M568.3 285.1h0M746.5 276.4h0M672.9 284.7h0M683.7 283.6h0M550.0 283.7h0M639.9 284.0h0M504.8 285.5h0M801.1 283.7h0M604.9 276.0h0M624.8 284.1h0M742.4 283.5h0M780.2 284.2h0M556.7 283.7h0M611.9 285.9h0M624.6 284.3h0M595.5 284.2h0M682.5 284.5h0M672.4 284.2h0M672.3 284.7h0M675.5 276.7h0M596.9 283.7h0M689.4 276.8h0M610.9 277.2h0M730.8 285.5h0M727.3 284.3h0M603.9 275.5h0M620.4 286.1h0M579.5 283.7h0M516.8 277.3h0M557.0 276.8h0M681.2 273.8h0M544.9 284.0h0M681.7 284.1h0M800.6 283.5h0M677.3 277.5h0M591.5 276.5h0M614.9 284.3h0M665.7 286.3h0M563.2 277.4h0M608.4 284.6h0M705.6 274.4h0M588.6 277.2h0M620.2 283.6h0M516.8 276.1h0M601.4 276.7h0M717.7 284.3h0M567.9 284.1h0M628.1 276.2h0M726.1 285.3h0M543.4 277.1h0M632.9 284.3h0M694.7 285.6h0M558.8 275.0h0M716.7 283.8h0M796.8 275.3h0M609.2 275.0h0M578.4 277.3h0M533.8 283.8h0M587.4 283.6h0M776.7 277.1h0M808.7 285.0h0M639.1 283.6h0M579.8 284.8h0M721.3 276.7h0M715.4 285.2h0M527.2 284.4h0M598.0 283.5h0M696.9 283.7h0M801.4 284.3h0M644.3 283.6h0M534.5 276.6h0M536.7 286.2h0M723.0 277.1h0M797.7 276.1h0M660.8 276.4h0M810.6 277.5h0M533.0 285.5h0M669.2 286.9h0M746.5 283.5h0M618.1 275.4h0M507.8 276.3h0M622.1 283.8h0M779.4 285.5h0M754.0 276.0h0M553.1 283.6h0M530.1 283.8h0M674.8 284.9h0M560.6 283.8h0M584.2 276.7h0M678.4 283.7h0M760.6 284.8h0M738.5 276.5h0M801.6 284.6h0M681.8 284.4h0M652.6 285.1h0M534.0 275.9h0M625.7 283.9h0M573.7 284.4h0M576.8 284.5h0M721.9 284.8h0M608.5 277.4h0M508.8 284.1h0M582.0 275.7h0M512.4 284.1h0M743.1 276.9h0M606.9 284.0h0M520.9 283.6h0M703.8 276.5h0M631.6 284.6h0M805.5 285.1h0M628.5 283.8h0M669.1 285.4h0M521.8 284.8h0M801.0 276.3h0M561.5 277.2h0M678.1 277.3h0M553.8 285.2h0M536.0 276.4h0M752.1 285.6h0M524.8 277.4h0M552.0 283.7h0M762.0 276.8h0M611.0 275.8h0M595.5 284.4h0M736.3 283.9h0M689.2 285.1h0M708.2 284.1h0M639.3 283.9h0M619.7 285.5h0M774.0 285.5h0M713.4 276.7h0M625.7 276.2h0M539.0 284.5h0M571.5 284.2h0M652.4 275.8h0M552.1 284.3h0M732.8 285.7h0M705.2 286.3h0M765.3 285.1h0M578.8 285.3h0M703.4 284.5h0M635.3 276.4h0M539.9 284.4h0M800.0 276.3h0M595.2 275.8h0M712.4 285.8h0M797.2 274.2h0M521.8 276.4h0M685.9 276.9h0M624.2 276.4h0M589.0 276.5h0M797.6 276.0h0M620.9 275.8h0M624.9 275.6h0M711.5 283.9h0M585.6 283.5h0M740.6 285.4h0M537.6 284.4h0M681.3 285.1h0M807.9 276.8h0M774.2 284.1h0M565.1 275.0h0M790.0 275.2h0M582.5 276.8h0M631.3 276.1h0M627.3 277.0h0M623.6 277.5h0M622.1 275.1h0M665.8 275.2h0M553.5 284.3h0M813.1 285.2h0M791.1 285.2h0M542.5 284.0h0M587.5 277.2h0M738.0 276.2h0M761.7 277.2h0M751.0 277.1h0M729.0 283.5h0M712.0 276.0h0M586.7 276.7h0M655.2 274.4h0M532.2 274.4h0M535.1 276.1h0M624.8 284.2h0M727.1 283.8h0M811.9 277.0h0M741.7 277.1h0M550.2 277.5h0M603.8 284.1h0M631.6 284.2h0M569.1 277.3h0M723.3 284.1h0M627.1 284.2h0M554.3 277.2h0M778.8 275.9h0M777.6 276.5h0M538.5 277.2h0M736.6 276.6h0M535.2 283.6h0M616.0 275.8h0M707.0 285.2h0M785.1 284.4h0M597.8 276.7h0M765.2 276.8h0M658.3 283.5h0M587.6 276.9h0M775.1 284.1h0M533.9 276.6h0M510.7 285.8h0M684.7 277.1h0M626.9 283.8h0M510.9 276.9h0M584.0 284.7h0M812.0 277.3h0M551.0 276.4h0M578.7 283.8h0M796.8 275.7h0M539.1 284.7h0M767.0 277.1h0M726.4 277.4h0M735.8 276.3h0M577.7 284.4h0M582.3 283.5h0M662.6 286.8h0M667.4 276.8h0M626.4 276.8h0M574.0 285.2h0M618.6 284.1h0M808.1 276.0h0M751.6 284.2h0M704.9 277.1h0M569.1 284.3h0M572.3 276.3h0M685.6 283.6h0M588.2 283.8h0M764.5 277.0h0M746.0 276.7h0M642.2 276.3h0M511.8 277.4h0M654.0 277.5h0M525.6 276.6h0M594.7 284.4h0M506.0 284.0h0M733.7 283.8h0M763.2 277.3h0M522.3 276.2h0M791.1 277.4h0M509.6 273.1h0M571.8 285.3h0M773.2 284.1h0M709.7 283.6h0M622.4 276.4h0M572.7 284.2h0M699.5 285.5h0M745.9 276.9h0M542.0 276.4h0M533.5 285.8h0M678.4 277.4h0M810.0 276.7h0M670.2 276.0h0M723.5 276.8h0M729.7 276.2h0M801.1 276.9h0M706.3 284.2h0M594.3 275.2h0M556.2 276.9h0M720.3 283.8h0M524.0 284.7h0M524.2 276.0h0M566.5 284.0h0M612.5 283.7h0M596.5 276.2h0M684.1 275.3h0M670.9 276.9h0M637.6 283.9h0M688.1 277.3h0M562.1 283.9h0M504.4 275.3h0M810.3 276.7h0M679.9 276.4h0M575.2 276.9h0M580.4 284.8h0M559.6 283.6h0M731.6 283.6h0M584.8 284.6h0M799.6 283.6h0M789.6 285.1h0M575.2 287.2h0M722.8 277.0h0M612.6 277.5h0M761.8 277.4h0M744.9 283.8h0M776.3 284.3h0M653.2 277.4h0M779.2 276.8h0M624.0 284.0h0M610.5 276.6h0M742.4 284.9h0M566.7 285.7h0M573.7 275.4h0M694.3 283.7h0M543.2 276.0h0M545.3 277.1h0M656.7 283.9h0M591.3 277.3h0M714.4 283.9h0M802.8 275.7h0M571.9 285.3h0M692.9 284.5h0M742.3 285.4h0M529.7 284.3h0M749.8 275.0h0M770.8 283.8h0M622.0 285.0h0M549.3 277.0h0M637.7 276.5h0M710.0 285.7h0M547.8 284.8h0M810.0 285.5h0M714.1 276.9h0M742.6 277.3h0M567.1 277.3h0M670.6 276.3h0M611.2 277.1h0M514.1 276.8h0M681.4 284.7h0M534.0 276.2h0M677.0 275.9h0M715.2 284.3h0M799.0 276.7h0M758.9 285.1h0M614.6 277.3h0M750.7 276.9h0M570.9 276.9h0M631.2 283.9h0M581.8 276.9h0M595.1 277.5h0M581.3 276.9h0M714.4 274.6h0M644.5 286.3h0M783.7 277.3h0M804.2 277.3h0M655.8 277.0h0M663.8 275.1h0M647.1 283.9h0M559.6 276.7h0M547.3 285.6h0M504.7 276.9h0M729.5 283.6h0M536.8 276.7h0M612.3 285.2h0M639.4 285.3h0M559.1 277.1h0M761.3 285.0h0M787.9 277.2h0M561.7 277.0h0M514.0 274.5h0M684.6 285.1h0M534.2 277.4h0M622.7 286.7h0M555.2 276.3h0M739.0 285.9h0M653.3 283.8h0M511.1 276.4h0M511.6 277.4h0M648.6 276.7h0M560.3 276.9h0M564.2 276.0h0M760.9 284.2h0M768.0 277.5h0M790.1 277.1h0M777.9 277.4h0M731.6 276.2h0M761.7 284.7h0M504.7 284.2h0M593.0 275.3h0M646.9 277.5h0M693.6 283.5h0M642.4 276.7h0M659.4 277.4h0M609.7 277.5h0M794.6 283.8h0M605.2 277.3h0M685.9 277.3h0M595.5 276.4h0M535.3 275.8h0M520.5 286.3h0M801.8 285.4h0M735.0 284.1h0M742.0 276.7h0M717.3 276.5h0M724.4 276.8h0M624.4 276.9h0M723.0 285.7h0M734.5 284.7h0M812.1 277.4h0M758.8 277.2h0M797.5 285.0h0M625.7 286.9h0M540.1 285.1h0M517.9 283.8h0M805.6 284.3h0M786.7 284.0h0M599.7 276.5h0M653.5 284.5h0M807.4 277.0h0M523.9 284.9h0M513.1 277.0h0M644.0 284.7h0M590.8 284.4h0M629.9 276.4h0M533.9 283.6h0M620.6 283.7h0M735.4 276.4h0M591.4 285.1h0M769.1 285.0h0M572.0 276.8h0M589.6 277.4h0M671.3 283.8h0M586.3 285.2h0M637.0 283.5h0M670.9 283.8h0M628.7 284.2h0M599.5 277.3h0M812.1 283.9h0M526.0 284.6h0M548.9 276.2h0M576.8 277.4h0M528.7 276.8h0M707.4 276.4h0M725.5 275.3h0M712.3 275.3h0M808.4 283.6h0M509.0 284.7h0M638.4 277.1h0M638.7 276.5h0M672.9 284.2h0M697.8 283.5h0M535.5 283.7h0M579.6 283.8h0M582.5 287.1h0M655.1 276.6h0M754.2 277.0h0M655.1 283.6h0M767.6 276.9h0M723.4 283.7h0M504.7 277.0h0M711.1 275.8h0M695.4 276.9h0M513.8 277.4h0M538.7 285.4h0M568.8 284.1h0M607.1 277.5h0M688.4 284.1h0M780.7 274.3h0M714.9 276.8h0M790.6 277.1h0M654.9 275.6h0M772.9 275.5h0M771.4 283.6h0M654.5 284.0h0M703.9 277.3h0M736.0 276.9h0M538.5 277.2h0M563.3 277.3h0M705.5 284.6h0M535.7 277.3h0M691.7 284.8h0M632.3 284.5h0M537.3 276.7h0M575.9 276.0h0M779.9 277.0h0M527.3 275.9h0M594.1 275.3h0M645.0 283.7h0M702.2 283.9h0M810.8 277.5h0M550.8 284.4h0M556.3 285.4h0M527.5 277.5h0M717.6 275.1h0M633.4 276.8h0M618.2 284.7h0M705.4 287.0h0M706.8 283.5h0M633.1 276.5h0M654.9 283.8h0M604.0 277.3h0M588.6 276.7h0M658.4 276.7h0M511.7 274.6h0M810.4 283.8h0M804.1 277.3h0M688.8 276.2h0M767.8 277.2h0M706.9 287.0h0M809.9 284.1h0M800.7 284.3h0M553.8 274.5h0M632.2 283.5h0M594.0 286.8h0M566.8 276.7h0M531.1 285.8h0M509.3 276.4h0M749.1 285.0h0M568.3 286.6h0M679.3 275.2h0M797.5 284.1h0M574.5 276.7h0M565.4 276.1h0M516.4 284.6h0M568.0 284.8h0M675.5 277.2h0M592.9 277.2h0M525.1 284.4h0M505.2 275.7h0M744.2 283.8h0M572.5 284.8h0M622.1 277.1h0M558.4 276.4h0M723.4 284.3h0M505.0 277.0h0M807.8 284.0h0M792.8 287.5h0M721.6 284.7h0M782.8 284.0h0M707.9 283.6h0M686.3 284.0h0M602.2 274.6h0M729.2 276.8h0M569.4 285.0h0M798.0 276.8h0M761.6 285.3h0M537.1 283.7h0M578.4 286.3h0M711.8 276.9h0M579.4 285.2h0M614.1 284.0h0M532.5 277.0h0M566.3 283.9h0M715.0 283.8h0M638.9 283.9h0M523.3 284.4h0M643.7 272.4h0M743.0 284.2h0M658.4 284.6h0M512.7 275.8h0M642.6 286.2h0M519.6 284.3h0M635.9 276.9h0M568.5 277.1h0M693.0 276.8h0M536.3 276.0h0M740.9 276.4h0M653.0 276.4h0M618.7 283.6h0M642.6 277.0h0M624.1 284.0h0M748.7 285.1h0M758.4 277.3h0M614.9 276.7h0M772.3 275.9h0M791.6 283.6h0M627.7 284.2h0M758.8 283.8h0M642.0 275.9h0M583.1 283.7h0M601.2 277.0h0M559.5 277.3h0M675.7 274.5h0M630.3 285.3h0M726.6 285.1h0M585.8 277.2h0M522.4 285.9h0M660.9 277.3h0M730.1 276.1h0M549.0 285.1h0M806.3 275.3h0M533.8 275.7h0M604.5 276.0h0M602.7 284.1h0M637.7 283.7h0M591.6 276.6h0M516.2 283.9h0M635.8 284.2h0M586.1 276.7h0M737.0 276.5h0M556.0 284.5h0M762.0 284.8h0M592.1 283.6h0M801.2 275.8h0M742.8 276.2h0M638.3 276.9h0M536.7 276.8h0M604.9 277.3h0M744.9 275.4h0M813.3 275.9h0M777.3 277.0h0M696.8 284.3h0M750.9 276.2h0M571.5 284.0h0M651.5 283.6h0M594.4 284.0h0M780.6 273.3h0M775.5 275.1h0M623.7 275.8h0M752.8 275.0h0M639.8 284.0h0M719.5 285.5h0M776.9 275.8h0M789.5 275.7h0M582.3 275.4h0M602.5 284.6h0M576.6 277.5h0M740.1 277.1h0M569.9 277.1h0M811.0 283.8h0M625.6 276.9h0M672.6 276.4h0M795.0 283.7h0M664.9 277.5h0M566.1 286.3h0M806.3 284.4h0M781.7 284.8h0M712.9 276.2h0M664.3 284.3h0M761.2 285.0h0M603.4 285.4h0M590.4 288.5h0M779.0 284.7h0M695.8 276.4h0M603.0 276.7h0M716.5 283.7h0M712.3 284.5h0M755.0 276.2h0M655.9 272.8h0M509.0 276.0h0M693.9 277.0h0M717.9 283.7h0M635.4 286.1h0M543.9 275.6h0M674.8 283.8h0M734.4 285.9h0M566.2 276.1h0M712.3 277.2h0M757.8 284.3h0M813.5 275.8h0M728.4 277.4h0M677.7 276.4h0M711.2 283.9h0M686.7 277.3h0M661.9 284.0h0M594.5 285.2h0M558.8 276.8h0M724.4 285.1h0M645.3 286.9h0M587.4 276.9h0M767.4 277.2h0M732.9 283.9h0M646.6 277.3h0M557.3 285.2h0M705.1 283.8h0M596.3 277.4h0M769.3 283.7h0M795.1 274.7h0M689.9 284.9h0M657.4 277.3h0M771.7 284.0h0M557.8 276.8h0M767.9 276.2h0M540.0 283.9h0M781.1 284.0h0M609.7 283.5h0M690.0 284.6h0M745.6 276.7h0M559.2 284.6h0M698.6 275.3h0M797.2 277.1h0M666.2 285.4h0M798.6 284.2h0M508.7 286.4h0M518.8 285.7h0M784.5 276.4h0M795.7 285.1h0M679.6 286.3h0M555.3 285.2h0M673.8 284.2h0M770.7 285.3h0M769.6 276.5h0M696.7 276.6h0M605.2 284.5h0M654.9 277.5h0M792.5 276.8h0M718.7 285.8h0M589.8 277.2h0M709.0 277.2h0M505.8 275.3h0M702.0 275.5h0M635.8 284.0h0M519.2 284.2h0M804.6 276.5h0M717.1 283.8h0M639.7 285.9h0M578.4 275.8h0M795.0 277.3h0M764.3 277.1h0M600.0 283.6h0M769.6 285.7h0M638.9 276.4h0M804.4 283.8h0M789.4 274.8h0M557.5 283.7h0M609.2 277.4h0M617.5 283.6h0M630.5 283.5h0M646.5 276.4h0M509.8 277.3h0M518.7 274.0h0M729.1 285.4h0M655.1 275.8h0M775.6 285.2h0M621.3 283.6h0M536.2 275.9h0M622.3 284.5h0M553.7 276.5h0M758.7 283.7h0M505.8 277.2h0M696.2 277.3h0M521.4 275.4h0M550.8 284.4h0M780.6 277.2h0M601.6 277.3h0M700.3 283.7h0M701.9 286.1h0M548.9 284.1h0M737.4 276.5h0M529.9 284.6h0M781.7 284.4h0M656.2 277.4h0M742.7 276.5h0M763.5 285.0h0M627.4 286.4h0M630.9 277.3h0M524.4 284.0h0M587.2 283.7h0M792.8 288.3h0M658.8 283.8h0M754.7 274.6h0M697.4 276.2h0M725.0 277.1h0M559.4 276.6h0M628.1 276.6h0M675.4 276.0h0M722.8 284.5h0M625.5 276.7h0M794.5 275.8h0M577.7 276.9h0M672.5 274.9h0M779.1 277.5h0M628.2 276.5h0M607.6 277.4h0M534.3 285.0h0M765.2 276.4h0M748.1 276.6h0M627.3 283.8h0M796.7 284.0h0M724.3 285.5h0M543.9 277.1h0M530.9 277.4h0M669.9 276.9h0M778.1 276.6h0M573.3 283.8h0M524.0 276.5h0M709.3 276.8h0M549.5 284.8h0M719.4 285.9h0M585.3 276.8h0M664.0 277.3h0M744.4 285.2h0M770.7 275.9h0M709.6 283.7h0M748.8 284.8h0M616.7 276.4h0M675.5 276.6h0M717.9 277.4h0M663.1 277.0h0M647.2 276.2h0M519.5 283.5h0M698.6 276.6h0M705.0 277.2h0M552.6 276.3h0M609.2 284.3h0M592.5 277.3h0M654.5 284.9h0M653.8 283.7h0M505.6 284.4h0M596.1 277.2h0M746.8 283.9h0M706.7 285.4h0M651.2 284.1h0M578.5 276.2h0M740.0 286.2h0M620.6 283.8h0M792.7 277.2h0M725.7 276.6h0M565.6 276.0h0M640.7 286.2h0M574.7 283.9h0M723.6 284.8h0M761.5 276.1h0M669.6 284.0h0M791.4 276.6h0M761.8 285.8h0M582.6 276.7h0M649.0 274.9h0M730.5 285.0h0M622.2 277.4h0M786.5 283.9h0M528.4 276.9h0M692.1 277.3h0M784.3 284.0h0M564.5 276.0h0M520.9 276.7h0M525.5 277.2h0M764.4 277.0h0M622.4 284.6h0M623.4 284.6h0M523.5 284.4h0M558.6 285.3h0M545.7 284.0h0M710.9 283.7h0M606.1 276.3h0M692.9 285.5h0M701.9 285.2h0M608.6 287.9h0M561.9 284.9h0M582.3 276.3h0M753.0 284.7h0M522.0 284.6h0M739.5 283.5h0M583.8 277.0h0M629.3 283.6h0M646.3 276.2h0M541.5 276.3h0M752.9 277.3h0M756.7 277.2h0M776.0 283.5h0M563.2 284.2h0M715.0 284.0h0M781.0 283.5h0M791.1 277.2h0M720.4 284.3h0M537.0 277.2h0M655.3 286.6h0M602.9 283.6h0M676.4 277.3h0M579.4 283.6h0M655.5 276.2h0M777.3 283.7h0M623.4 276.6h0M516.4 285.1h0M670.4 286.8h0M736.7 277.0h0M669.2 277.4h0M710.6 284.1h0M635.8 284.1h0M617.6 284.2h0M679.7 284.2h0M736.1 276.4h0M719.2 284.8h0M588.6 276.5h0M637.8 274.1h0M812.2 275.8h0M808.3 283.5h0M577.3 277.3h0M517.6 277.3h0M630.7 277.0h0M764.1 275.9h0M671.4 283.8h0M521.6 285.3h0M790.5 283.8h0M558.6 283.8h0M778.5 273.9h0M755.8 275.8h0M740.2 284.8h0M809.3 276.5h0M574.2 287.1h0M545.6 277.3h0M781.9 284.7h0M749.3 284.0h0M530.9 276.3h0M794.4 276.7h0M564.1 275.3h0M805.1 276.8h0M738.5 277.1h0M608.0 275.4h0M804.2 276.8h0M800.8 283.6h0M782.4 276.4h0M739.9 276.8h0M786.6 283.9h0M508.9 277.3h0M566.0 285.5h0M601.1 285.4h0M780.2 275.2h0M711.3 276.8h0M610.3 276.4h0M652.8 284.7h0M541.8 277.4h0M564.8 276.1h0M601.7 284.4h0M505.1 275.4h0M799.0 285.9h0M590.0 284.2h0M568.7 283.5h0M522.9 274.9h0M725.3 276.4h0M672.1 276.8h0M526.1 274.7h0M729.5 276.3h0M666.6 277.0h0M512.8 284.4h0M582.7 274.9h0M770.8 283.6h0M794.1 284.9h0M605.5 284.4h0M536.0 276.3h0M799.4 283.7h0M647.8 277.3h0M597.5 274.2h0M606.3 283.6h0M584.9 275.7h0M554.6 277.4h0M550.9 273.9h0M566.1 277.4h0M655.9 277.1h0M699.5 284.6h0M805.9 276.8h0M752.6 283.6h0M749.9 283.9h0M790.0 277.4h0M597.2 276.9h0M701.6 283.8h0M577.2 276.0h0M740.5 276.8h0M615.3 276.8h0M613.0 277.3h0M610.5 284.5h0M809.2 283.9h0M546.7 277.3h0M587.4 283.5h0M699.1 284.3h0M626.5 276.5h0M793.0 275.9h0M624.0 277.5h0M708.3 283.5h0M791.5 275.9h0M525.1 277.1h0M756.2 276.2h0M662.4 283.7h0M577.6 285.0h0M528.8 283.9h0M648.1 283.7h0M535.3 277.3h0M735.6 283.9h0M604.1 277.4h0M718.6 277.1h0M628.1 274.3h0M635.5 277.0h0M613.2 276.6h0M704.4 283.7h0M576.4 284.4h0M736.2 283.9h0M638.8 284.8h0M588.4 284.4h0M647.0 276.9h0M599.0 283.6h0M655.9 276.8h0M799.7 284.2h0M680.7 284.6h0M755.8 283.6h0M554.1 284.8h0M578.5 277.3h0M807.6 286.0h0M624.7 275.4h0M610.0 276.5h0M529.2 275.6h0M591.7 276.4h0M806.3 277.2h0M627.8 284.5h0M690.4 285.1h0M530.4 277.0h0M696.8 276.6h0M512.2 276.7h0M613.1 284.0h0M806.5 275.7h0M678.0 276.5h0M522.0 284.3h0M507.8 276.2h0M685.9 277.2h0M668.5 284.8h0M754.4 283.5h0M812.6 277.5h0M585.4 284.6h0M703.7 276.8h0M721.4 277.0h0M734.1 277.3h0M798.2 276.4h0M726.7 284.6h0M579.7 276.9h0M535.4 277.3h0M640.4 284.8h0M790.4 276.1h0M809.2 283.7h0M721.5 284.7h0M596.0 283.5h0M633.3 284.8h0M770.7 273.1h0M785.5 277.1h0M508.7 275.2h0M755.8 283.6h0M740.9 285.1h0M531.2 276.5h0M541.0 284.1h0M690.8 276.7h0M568.3 285.5h0M621.9 277.2h0M547.0 283.8h0M650.5 284.9h0M560.4 277.1h0M525.2 277.0h0M605.8 284.4h0M583.3 284.6h0M654.8 283.7h0M704.2 284.0h0M616.8 277.3h0M531.1 284.4h0M705.2 277.3h0M682.2 283.9h0M787.8 276.9h0M724.2 276.1h0M541.0 275.6h0M553.7 276.5h0M690.3 284.9h0M739.0 276.6h0M522.7 284.8h0M628.9 283.9h0M678.5 283.9h0M743.9 276.5h0M712.5 276.6h0M661.1 277.5h0M669.4 276.5h0M788.4 284.1h0M738.1 277.2h0M685.7 276.4h0M562.8 284.9h0M639.3 276.0h0M523.1 284.5h0M809.2 276.6h0M526.9 284.0h0M626.6 286.7h0M753.8 276.6h0M773.5 283.8h0M784.9 276.5h0M534.7 286.3h0M585.5 283.8h0M594.0 277.3h0M793.8 283.7h0M654.6 276.9h0M505.9 285.9h0M610.8 286.3h0M584.5 283.6h0M684.8 285.0h0M792.4 283.9h0M626.9 284.5h0M579.6 283.5h0M513.2 284.0h0M580.4 284.0h0M714.9 276.2h0M715.6 276.2h0M698.6 284.4h0M686.8 276.9h0M765.5 283.6h0M727.5 285.4h0M756.2 286.6h0M797.5 283.9h0M510.8 284.5h0M693.5 277.5h0M772.6 283.9h0M611.1 276.1h0M644.7 277.1h0M585.2 276.8h0M689.2 277.5h0M657.9 276.6h0M646.0 277.2h0M648.3 275.9h0M554.8 277.1h0M587.6 284.6h0M569.2 276.4h0M667.1 285.6h0M807.1 276.5h0M700.6 283.6h0M544.4 276.4h0M617.7 283.9h0M700.9 275.5h0M582.4 276.8h0M532.0 277.2h0M583.8 283.7h0M597.6 284.3h0M634.8 276.8h0M684.9 275.2h0M510.9 283.9h0M691.1 284.3h0M794.7 283.7h0M810.9 283.7h0M652.0 283.7h0M744.1 283.7h0M756.5 284.2h0M717.5 276.0h0M524.9 286.6h0M797.1 284.1h0M761.0 284.3h0M783.7 276.9h0M644.4 286.1h0M671.8 283.6h0M608.5 283.9h0M555.7 276.4h0M597.8 283.8h0M686.0 285.3h0M550.4 285.1h0M719.5 276.1h0M771.0 277.5h0M576.4 277.4h0M542.8 276.5h0M772.8 285.1h0M583.6 277.4h0M710.0 283.6h0M575.7 274.4h0M748.2 283.9h0M613.5 284.4h0M776.2 275.0h0M799.3 283.8h0M764.5 276.7h0M779.7 284.3h0M647.0 283.8h0M795.1 277.4h0M739.4 283.8h0M652.0 276.5h0M650.4 284.7h0M705.1 284.4h0M607.3 277.0h0M540.0 277.2h0M516.2 274.4h0M510.8 277.2h0M647.4 284.2h0M644.5 275.9h0M688.1 277.4h0M707.6 275.9h0M724.1 285.1h0M565.8 286.5h0M543.3 284.3h0M767.8 275.4h0M642.4 283.9h0M572.8 276.6h0M706.9 284.5h0M782.8 283.7h0M676.5 276.4h0M572.3 277.3h0M573.6 277.2h0M630.1 283.6h0M672.6 276.6h0M569.2 283.6h0M720.3 284.5h0M510.3 275.5h0M698.0 276.4h0M656.1 275.8h0M554.4 285.7h0M795.2 277.0h0M703.1 285.6h0M655.6 284.1h0M799.2 284.4h0M811.0 285.7h0M804.3 286.5h0M730.3 276.5h0M802.8 277.1h0M546.5 284.0h0M648.8 284.2h0M628.9 286.1h0M760.6 288.4h0M795.4 283.6h0M682.5 277.4h0M812.0 276.5h0M704.5 276.7h0M783.5 284.3h0M764.8 284.7h0M719.6 283.7h0M525.6 274.9h0M701.5 283.8h0M721.6 284.5h0M568.7 284.3h0M717.6 283.6h0M702.8 284.1h0M639.4 288.5h0M522.7 274.8h0M682.5 277.3h0M652.9 285.1h0M777.2 286.5h0M721.9 284.0h0M548.7 275.6h0M575.8 283.9h0M625.6 277.0h0M674.5 284.2h0M519.4 285.3h0M717.1 285.0h0M562.3 283.7h0M553.2 277.4h0M770.2 283.6h0M799.2 276.1h0M758.2 276.1h0M599.1 277.1h0M534.1 276.4h0M549.8 277.2h0M559.3 284.8h0M732.6 283.7h0M730.1 283.8h0M706.5 283.8h0M564.8 284.6h0M812.0 283.5h0M749.7 283.6h0M569.6 277.3h0M549.2 285.0h0M657.0 277.1h0M607.6 284.5h0M746.7 276.5h0M641.0 284.7h0M581.9 277.2h0M562.2 284.0h0M812.4 277.4h0M636.1 283.8h0M728.1 284.6h0M723.9 277.4h0M540.5 277.4h0M607.1 277.4h0M620.5 277.3h0M607.6 285.4h0M708.3 277.1h0M592.7 285.7h0M762.2 284.0h0M630.8 276.9h0M610.6 283.9h0M730.9 277.1h0M729.0 284.5h0M767.1 277.1h0M762.9 283.6h0M682.8 284.4h0M637.6 276.9h0M728.2 276.6h0M763.9 283.6h0M679.8 284.3h0M758.9 284.3h0M697.2 276.5h0M757.3 284.3h0M707.9 275.3h0M626.3 276.8h0M757.2 276.4h0M603.0 284.4h0M727.5 284.0h0M724.9 285.0h0M568.0 276.5h0M722.8 286.8h0M532.5 283.6h0M782.3 277.0h0M610.4 276.7h0M808.1 276.2h0M646.0 283.7h0M597.7 286.3h0M577.4 285.9h0M581.5 283.7h0M789.0 277.1h0M807.1 283.9h0M547.4 284.0h0M755.7 284.6h0M773.4 277.2h0M715.5 277.2h0M554.7 285.2h0M694.3 274.7h0M722.7 277.3h0M528.5 277.4h0M761.6 284.2h0M690.6 283.5h0M620.4 276.0h0M742.3 286.0h0M729.6 275.1h0M660.9 276.1h0M570.0 283.6h0M548.7 275.6h0M780.5 276.0h0M730.8 284.9h0M577.5 276.8h0M626.6 284.9h0M677.3 276.1h0M600.5 284.2h0M748.0 275.7h0M617.7 274.6h0M713.0 276.2h0M583.9 284.2h0M783.0 283.5h0M513.7 285.1h0M679.7 286.7h0M643.7 285.8h0M682.3 285.2h0M786.1 277.4h0M553.4 283.6h0M556.0 285.1h0M559.3 285.2h0M695.5 276.7h0M532.8 284.0h0M785.4 283.8h0M748.1 276.2h0M551.0 284.3h0M753.3 283.8h0M672.4 283.5h0M633.3 277.5h0M657.7 284.9h0M544.1 284.1h0M538.3 277.4h0M684.3 284.6h0M673.4 275.1h0M687.2 284.6h0M549.0 283.9h0M800.5 277.1h0M558.2 276.3h0M688.5 275.9h0M545.0 286.0h0M776.2 275.2h0M530.9 283.6h0M628.3 284.7h0M740.3 275.6h0M578.7 286.1h0M638.0 283.8h0M537.6 277.4h0M800.1 274.7h0M802.4 283.9h0M524.3 277.0h0M604.9 276.6h0M537.0 276.8h0M657.5 284.1h0M765.9 277.0h0M610.6 277.2h0M659.9 285.3h0M613.6 283.8h0M764.8 277.2h0M607.0 276.5h0M748.8 277.2h0M585.9 275.4h0M585.5 275.5h0M777.6 286.7h0M645.5 284.1h0M634.0 283.6h0M546.3 277.4h0M543.3 277.4h0M629.9 284.4h0M691.3 284.2h0M721.0 274.9h0M600.2 283.8h0M576.1 275.2h0M706.1 284.4h0M542.8 275.2h0M678.6 276.6h0M715.0 284.3h0M659.7 284.1h0M730.4 276.7h0M812.0 283.9h0M752.8 277.0h0M586.4 285.3h0M628.4 285.0h0M738.0 284.1h0M521.5 285.2h0M518.3 277.0h0M632.2 284.7h0M568.7 277.0h0M655.9 277.2h0M760.8 284.1h0M732.4 284.0h0M604.8 284.1h0M508.7 284.0h0M779.8 277.4h0M722.5 286.0h0M582.0 275.4h0M804.1 277.3h0M510.4 276.8h0M560.0 277.1h0M658.7 276.6h0M549.1 284.5h0M731.0 276.5h0M560.1 286.2h0M693.0 275.4h0M617.6 285.0h0M550.2 283.7h0M705.2 276.5h0M637.9 276.1h0M592.5 283.8h0M801.0 275.2h0M807.3 277.0h0M605.3 277.1h0M646.1 276.6h0M708.7 283.9h0M574.4 276.4h0M637.9 283.5h0M720.6 285.3h0M780.1 276.1h0M543.5 275.4h0M555.0 277.3h0M513.9 285.7h0M775.9 284.1h0M710.3 283.9h0M583.1 277.2h0M783.2 283.7h0M689.2 275.9h0M539.6 285.2h0M808.3 277.0h0M573.9 277.5h0M627.6 276.7h0M759.2 284.0h0M562.5 276.6h0M739.7 276.7h0M577.4 284.1h0M517.5 284.3h0M752.5 277.4h0M636.8 285.5h0M651.3 277.3h0M621.4 274.2h0M698.9 283.8h0M706.0 285.3h0M658.6 283.8h0M594.3 284.3h0M575.4 284.7h0M644.6 286.7h0M656.9 284.6h0M584.0 284.1h0M525.8 283.6h0M679.7 283.5h0M675.2 276.4h0M574.0 284.6h0M735.1 286.1h0M641.5 283.6h0M652.2 276.8h0M756.2 284.4h0M740.3 275.9h0M609.4 277.4h0M812.6 274.5h0M588.4 283.9h0M657.3 283.6h0M536.6 276.1h0M546.1 283.7h0M633.1 284.0h0M613.6 277.5h0M672.9 276.3h0M684.3 276.5h0M595.2 277.3h0M736.4 284.4h0M747.3 284.7h0M639.9 276.7h0M531.1 277.4h0M640.9 284.1h0M684.1 276.3h0M567.1 286.9h0M654.2 283.9h0M504.7 277.4h0M568.4 276.2h0M633.5 275.2h0M692.5 283.8h0M666.4 277.4h0M686.7 277.1h0M743.2 283.8h0M623.0 284.3h0M527.1 277.2h0M691.4 285.2h0M589.0 284.5h0M675.4 274.1h0M675.9 276.1h0M558.4 276.4h0M534.8 283.9h0M580.8 276.3h0M644.4 283.8h0M571.0 274.1h0M769.0 276.9h0M731.4 277.1h0M686.7 284.1h0M704.5 284.6h0M772.8 276.5h0M782.2 283.5h0M734.7 284.0h0M667.6 285.3h0M704.3 283.6h0M513.1 284.7h0M717.0 284.3h0M757.7 284.9h0M708.1 283.6h0M521.7 274.6h0M545.2 277.4h0M581.8 283.5h0M606.6 275.4h0M581.8 277.0h0M648.6 283.6h0M504.7 277.2h0M809.3 276.5h0M709.0 277.4h0M580.3 284.6h0M559.3 276.0h0M773.9 277.3h0M608.0 283.7h0M578.8 277.5h0M743.5 284.0h0M520.7 274.5h0M597.2 285.4h0M658.4 277.3h0M749.3 276.2h0M506.3 276.7h0M794.7 284.5h0M597.0 277.2h0M650.9 277.1h0M720.9 283.9h0M714.3 284.0h0M537.0 277.5h0M586.7 285.6h0M665.6 284.8h0M662.0 283.8h0M646.0 277.3h0M805.3 276.9h0M609.8 276.0h0M608.0 277.0h0M706.2 284.1h0M542.0 275.2h0M704.6 276.9h0M811.8 286.3h0M518.9 277.3h0M519.9 277.2h0M585.9 283.6h0M724.6 277.1h0M730.3 276.2h0M720.5 276.5h0M740.7 284.1h0M703.3 285.7h0M656.0 275.8h0M687.3 284.2h0M625.6 277.4h0M742.0 277.2h0M804.0 276.3h0M625.6 283.6h0M573.3 284.5h0M539.8 284.3h0M755.3 286.2h0M635.7 277.4h0M589.4 283.6h0M539.4 283.7h0M572.8 277.0h0M565.6 284.1h0M576.8 275.9h0M696.0 284.9h0M683.0 284.4h0M593.0 274.5h0M528.7 276.3h0M658.9 283.5h0M649.2 283.9h0M811.6 277.3h0M737.0 276.3h0M705.4 276.5h0M555.0 277.1h0M668.7 276.7h0M580.4 283.8h0M556.2 283.7h0M517.4 283.6h0M584.4 283.8h0M759.8 286.6h0M603.3 277.4h0M738.8 286.1h0M526.5 285.3h0M659.1 284.2h0M718.8 277.2h0M774.7 284.2h0M542.8 275.2h0M603.8 284.6h0M620.0 275.7h0M650.3 283.5h0M781.4 284.0h0M713.0 277.2h0M582.4 276.7h0M561.5 285.5h0M611.7 277.1h0M739.4 277.5h0M786.8 285.0h0M636.6 285.1h0M634.6 275.8h0M742.5 277.1h0M549.7 277.3h0M574.8 273.7h0M557.8 284.4h0M577.4 276.3h0M784.2 275.6h0M552.3 286.5h0M676.7 276.9h0M737.1 276.6h0M734.9 276.7h0M522.2 284.0h0M530.8 284.0h0M806.1 287.5h0M732.6 277.2h0M516.7 276.8h0M631.7 283.6h0M582.3 276.5h0M571.4 276.2h0M782.7 284.6h0M535.5 276.0h0M737.9 284.7h0M772.2 284.0h0M778.7 283.6h0M725.4 275.1h0M582.1 277.3h0M569.6 284.4h0M563.2 284.3h0M695.0 277.5h0M636.7 275.4h0M619.2 284.9h0M717.0 284.0h0M741.2 283.9h0M668.1 277.1h0M540.8 284.8h0M733.2 284.6h0M758.4 276.5h0M687.2 276.4h0M528.6 283.6h0M523.4 286.8h0M704.0 285.3h0M763.6 273.6h0M691.4 276.2h0M603.3 285.4h0M799.1 283.6h0M627.9 285.7h0M780.9 277.1h0M592.3 285.0h0M522.6 283.7h0M636.2 283.7h0M719.0 276.0h0M531.3 285.5h0M568.7 276.5h0M559.5 284.7h0M808.0 283.6h0M577.6 283.6h0M604.1 283.5h0M535.7 284.3h0M757.8 283.5h0M805.4 275.7h0M575.5 286.1h0M684.1 277.2h0M636.4 276.0h0M593.7 283.9h0M604.5 283.7h0M775.6 283.5h0M531.1 277.4h0M627.4 284.0h0M557.4 284.0h0M618.7 277.1h0M507.0 274.5h0M712.3 277.4h0M690.0 277.1h0M590.2 284.2h0M650.7 273.3h0M563.0 276.4h0M683.0 276.5h0M733.3 284.0h0M722.0 276.3h0M525.5 285.5h0M574.0 284.6h0M654.3 261.7h0M700.3 272.7h0M566.2 267.4h0M712.6 267.8h0M803.0 271.2h0M660.5 266.5h0M532.1 272.9h0M621.6 269.7h0M746.5 265.2h0M705.5 262.2h0M769.5 268.8h0M533.6 268.1h0M715.5 267.5h0M642.1 253.5h0M758.2 262.0h0M656.5 267.2h0M504.0 262.2h0M758.7 271.9h0M772.8 260.8h0M667.6 270.9h0M707.1 272.9h0M615.6 271.2h0M803.2 271.9h0M660.0 257.1h0M693.0 264.8h0M570.3 266.5h0M610.5 267.7h0M579.1 258.7h0M694.3 266.7h0M624.3 267.4h0M745.3 268.0h0M670.7 258.3h0M560.4 254.6h0M606.3 272.8h0M594.1 268.3h0M515.5 265.8h0M700.0 269.6h0M805.3 257.5h0M717.2 262.0h0M620.7 266.9h0M505.5 264.9h0M584.7 270.9h0M723.9 263.2h0M808.1 270.6h0M667.0 260.6h0M805.8 262.0h0M727.2 265.0h0M775.9 271.1h0M781.2 254.0h0M565.3 271.4h0M531.6 270.1h0M679.2 271.8h0M610.7 268.5h0M617.0 271.9h0M567.4 260.9h0M600.2 263.0h0M573.7 265.4h0M547.3 266.4h0M530.0 271.7h0M581.9 266.4h0M565.2 272.1h0M742.3 269.9h0M806.4 265.3h0M657.4 270.3h0M745.9 270.4h0M549.6 272.8h0M598.1 265.3h0M699.6 269.4h0M666.3 255.9h0M794.8 272.7h0M712.9 266.1h0M729.5 268.1h0M574.8 272.0h0M729.7 263.4h0M661.1 265.3h0M667.2 270.3h0M518.8 271.9h0M758.8 258.3h0M769.7 264.8h0M791.5 269.7h0M780.2 271.6h0M612.5 262.5h0M757.7 266.2h0M579.4 263.2h0M555.8 266.2h0M545.8 260.2h0M743.5 270.3h0M769.4 271.6h0M813.1 272.5h0M578.6 255.7h0M771.3 261.4h0M749.9 255.9h0M570.9 258.4h0M642.0 262.0h0M725.5 270.5h0M535.9 293.9h0M520.4 293.0h0M715.3 293.4h0M675.1 288.2h0M655.5 289.4h0M518.0 290.6h0M672.4 288.1h0M612.3 289.2h0M582.6 289.4h0M712.9 288.6h0M592.1 288.5h0M547.2 288.3h0M720.7 290.8h0M520.6 288.7h0M649.1 291.0h0M683.7 289.9h0M787.1 294.2h0M631.4 289.7h0M607.2 289.2h0M540.1 291.0h0M798.3 288.5h0M775.8 293.8h0M527.3 290.2h0M561.5 289.5h0M729.7 288.2h0M512.5 290.2h0M664.2 289.6h0M760.7 293.2h0M611.0 289.5h0M812.8 293.2h0M778.7 292.1h0M557.0 289.5h0M767.1 289.4h0M553.0 291.3h0M568.4 292.2h0M555.6 292.1h0M604.8 292.9h0M524.2 288.5h0M729.0 291.0h0M603.4 288.9h0M729.6 291.3h0M747.7 290.6h0M718.9 290.9h0M573.2 288.4h0M616.0 288.4h0M561.4 295.6h0M770.2 291.2h0M548.9 291.2h0" stroke="#a72626" stroke-width="4.0" stroke-linecap="round" fill="none"/>
<rect x="47" y="18" width="1.3" height="303" fill="#9c9c9c"/>
<rect x="41.5" y="67" width="5.5" height="1" fill="#9c9c9c"/>
<rect x="41.5" y="136" width="5.5" height="1" fill="#9c9c9c"/>
<rect x="41.5" y="205" width="5.5" height="1" fill="#9c9c9c"/>
<rect x="41.5" y="274" width="5.5" height="1" fill="#9c9c9c"/>
<text transform="translate(36.9,69.4) rotate(-90) scale(1.36,1)" text-anchor="middle" font-size="9.4" fill="#222" stroke="#222" stroke-width="0.3">8000</text>
<text transform="translate(36.9,137.0) rotate(-90) scale(1.36,1)" text-anchor="middle" font-size="9.4" fill="#222" stroke="#222" stroke-width="0.3">6000</text>
<text transform="translate(36.9,205.6) rotate(-90) scale(1.36,1)" text-anchor="middle" font-size="9.4" fill="#222" stroke="#222" stroke-width="0.3">4000</text>
<text transform="translate(36.9,273.6) rotate(-90) scale(1.36,1)" text-anchor="middle" font-size="9.4" fill="#222" stroke="#222" stroke-width="0.3">2000</text>
<text transform="translate(12.4,171.8) rotate(-90)" text-anchor="middle" font-size="13" letter-spacing="0.08" fill="#111" stroke="#111" stroke-width="0.2">Fluorescence intensity</text>
<text x="1.0" y="13.2" font-size="16.4" font-weight="bold" fill="#111">(a)</text>
<text x="496.4" y="13.2" font-size="16.4" font-weight="bold" fill="#111">(b)</text>
<text x="396.2" y="56.9" font-size="12" letter-spacing="0.04" fill="#99cd6e" stroke="#99cd6e" stroke-width="0.2">Positive partitions</text>
<text x="427.2" y="168.0" font-size="12" letter-spacing="0.3" fill="#b3b3b3" stroke="#b3b3b3" stroke-width="0.2">Rain</text>
<text x="396.3" y="281.6" font-size="12" fill="#a72626" stroke="#a72626" stroke-width="0.2">Negative partitions</text>
</svg>
</body></html>
